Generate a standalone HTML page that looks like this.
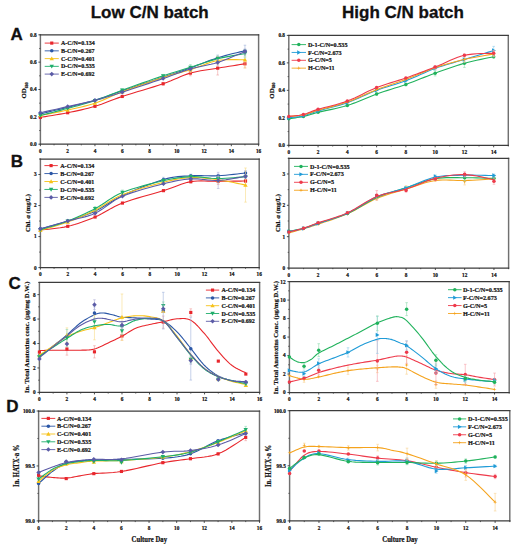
<!DOCTYPE html>
<html><head><meta charset="utf-8"><title>Figure</title>
<style>
html,body{margin:0;padding:0;background:#fff;}
body{width:515px;height:550px;overflow:hidden;font-family:"Liberation Sans",sans-serif;}
svg{display:block;}
</style></head>
<body>
<svg width="515" height="550" viewBox="0 0 515 550">
<rect width="515" height="550" fill="#fff"/>
<text transform="translate(149.7 18.4) scale(1 1)" font-family='"Liberation Sans", sans-serif' font-size="17" font-weight="bold" text-anchor="middle" fill="#111" stroke="#111" stroke-width="0.3">Low C/N batch</text>
<text transform="translate(403 18.4) scale(1 1)" font-family='"Liberation Sans", sans-serif' font-size="17" font-weight="bold" text-anchor="middle" fill="#111" stroke="#111" stroke-width="0.3">High C/N batch</text>
<text transform="translate(10.6 40) scale(1 1)" font-family='"Liberation Sans", sans-serif' font-size="17" font-weight="bold" text-anchor="start" fill="#111" stroke="#111" stroke-width="0.3">A</text>
<text transform="translate(10.8 166.6) scale(1 1)" font-family='"Liberation Sans", sans-serif' font-size="17" font-weight="bold" text-anchor="start" fill="#111" stroke="#111" stroke-width="0.3">B</text>
<text transform="translate(8.4 289.2) scale(1 1)" font-family='"Liberation Sans", sans-serif' font-size="17" font-weight="bold" text-anchor="start" fill="#111" stroke="#111" stroke-width="0.3">C</text>
<text transform="translate(6.2 411.6) scale(1 1)" font-family='"Liberation Sans", sans-serif' font-size="17" font-weight="bold" text-anchor="start" fill="#111" stroke="#111" stroke-width="0.3">D</text>
<path d="M40.4 34.3V144.7M258.6 34.3V144.7" stroke="#707070" stroke-width="1.45" fill="none"/>
<path d="M39.8 34.8H259.2M39.8 144.2H259.2" stroke="#3c3c3c" stroke-width="1.25" fill="none"/>
<path d="M40.4 144.2V146.2" stroke="#3a3a3a" stroke-width="0.9"/>
<text transform="translate(40.4 153) scale(1 1.1)" font-family='"Liberation Serif", serif' font-size="5.3" font-weight="bold" text-anchor="middle" fill="#111" stroke="#111" stroke-width="0.2">0</text>
<path d="M67.67 144.2V146.2" stroke="#3a3a3a" stroke-width="0.9"/>
<text transform="translate(67.67 153) scale(1 1.1)" font-family='"Liberation Serif", serif' font-size="5.3" font-weight="bold" text-anchor="middle" fill="#111" stroke="#111" stroke-width="0.2">2</text>
<path d="M94.95 144.2V146.2" stroke="#3a3a3a" stroke-width="0.9"/>
<text transform="translate(94.95 153) scale(1 1.1)" font-family='"Liberation Serif", serif' font-size="5.3" font-weight="bold" text-anchor="middle" fill="#111" stroke="#111" stroke-width="0.2">4</text>
<path d="M122.22 144.2V146.2" stroke="#3a3a3a" stroke-width="0.9"/>
<text transform="translate(122.22 153) scale(1 1.1)" font-family='"Liberation Serif", serif' font-size="5.3" font-weight="bold" text-anchor="middle" fill="#111" stroke="#111" stroke-width="0.2">6</text>
<path d="M149.5 144.2V146.2" stroke="#3a3a3a" stroke-width="0.9"/>
<text transform="translate(149.5 153) scale(1 1.1)" font-family='"Liberation Serif", serif' font-size="5.3" font-weight="bold" text-anchor="middle" fill="#111" stroke="#111" stroke-width="0.2">8</text>
<path d="M176.78 144.2V146.2" stroke="#3a3a3a" stroke-width="0.9"/>
<text transform="translate(176.78 153) scale(1 1.1)" font-family='"Liberation Serif", serif' font-size="5.3" font-weight="bold" text-anchor="middle" fill="#111" stroke="#111" stroke-width="0.2">10</text>
<path d="M204.05 144.2V146.2" stroke="#3a3a3a" stroke-width="0.9"/>
<text transform="translate(204.05 153) scale(1 1.1)" font-family='"Liberation Serif", serif' font-size="5.3" font-weight="bold" text-anchor="middle" fill="#111" stroke="#111" stroke-width="0.2">12</text>
<path d="M231.33 144.2V146.2" stroke="#3a3a3a" stroke-width="0.9"/>
<text transform="translate(231.33 153) scale(1 1.1)" font-family='"Liberation Serif", serif' font-size="5.3" font-weight="bold" text-anchor="middle" fill="#111" stroke="#111" stroke-width="0.2">14</text>
<path d="M258.6 144.2V146.2" stroke="#3a3a3a" stroke-width="0.9"/>
<text transform="translate(258.6 153) scale(1 1.1)" font-family='"Liberation Serif", serif' font-size="5.3" font-weight="bold" text-anchor="middle" fill="#111" stroke="#111" stroke-width="0.2">16</text>
<path d="M54.04 144.2V145.4" stroke="#3a3a3a" stroke-width="0.8"/>
<path d="M81.31 144.2V145.4" stroke="#3a3a3a" stroke-width="0.8"/>
<path d="M108.59 144.2V145.4" stroke="#3a3a3a" stroke-width="0.8"/>
<path d="M135.86 144.2V145.4" stroke="#3a3a3a" stroke-width="0.8"/>
<path d="M163.14 144.2V145.4" stroke="#3a3a3a" stroke-width="0.8"/>
<path d="M190.41 144.2V145.4" stroke="#3a3a3a" stroke-width="0.8"/>
<path d="M217.69 144.2V145.4" stroke="#3a3a3a" stroke-width="0.8"/>
<path d="M244.96 144.2V145.4" stroke="#3a3a3a" stroke-width="0.8"/>
<path d="M40.4 144.2H38.4" stroke="#3a3a3a" stroke-width="0.9"/>
<text transform="translate(36.6 146.1) scale(1 1.1)" font-family='"Liberation Serif", serif' font-size="5.3" font-weight="bold" text-anchor="end" fill="#111" stroke="#111" stroke-width="0.2">0.0</text>
<path d="M40.4 116.85H38.4" stroke="#3a3a3a" stroke-width="0.9"/>
<text transform="translate(36.6 118.75) scale(1 1.1)" font-family='"Liberation Serif", serif' font-size="5.3" font-weight="bold" text-anchor="end" fill="#111" stroke="#111" stroke-width="0.2">0.2</text>
<path d="M40.4 89.5H38.4" stroke="#3a3a3a" stroke-width="0.9"/>
<text transform="translate(36.6 91.4) scale(1 1.1)" font-family='"Liberation Serif", serif' font-size="5.3" font-weight="bold" text-anchor="end" fill="#111" stroke="#111" stroke-width="0.2">0.4</text>
<path d="M40.4 62.15H38.4" stroke="#3a3a3a" stroke-width="0.9"/>
<text transform="translate(36.6 64.05) scale(1 1.1)" font-family='"Liberation Serif", serif' font-size="5.3" font-weight="bold" text-anchor="end" fill="#111" stroke="#111" stroke-width="0.2">0.6</text>
<path d="M40.4 34.8H38.4" stroke="#3a3a3a" stroke-width="0.9"/>
<text transform="translate(36.6 36.7) scale(1 1.1)" font-family='"Liberation Serif", serif' font-size="5.3" font-weight="bold" text-anchor="end" fill="#111" stroke="#111" stroke-width="0.2">0.8</text>
<path d="M40.4 130.52H39.2" stroke="#3a3a3a" stroke-width="0.8"/>
<path d="M40.4 103.17H39.2" stroke="#3a3a3a" stroke-width="0.8"/>
<path d="M40.4 75.82H39.2" stroke="#3a3a3a" stroke-width="0.8"/>
<path d="M40.4 48.48H39.2" stroke="#3a3a3a" stroke-width="0.8"/>
<path d="M288.8 34.9V145.8M508.3 34.9V145.8" stroke="#707070" stroke-width="1.45" fill="none"/>
<path d="M288.2 35.4H508.9M288.2 145.3H508.9" stroke="#3c3c3c" stroke-width="1.25" fill="none"/>
<path d="M288.8 145.3V147.3" stroke="#3a3a3a" stroke-width="0.9"/>
<text transform="translate(288.8 154.1) scale(1 1.1)" font-family='"Liberation Serif", serif' font-size="5.3" font-weight="bold" text-anchor="middle" fill="#111" stroke="#111" stroke-width="0.2">0</text>
<path d="M318.07 145.3V147.3" stroke="#3a3a3a" stroke-width="0.9"/>
<text transform="translate(318.07 154.1) scale(1 1.1)" font-family='"Liberation Serif", serif' font-size="5.3" font-weight="bold" text-anchor="middle" fill="#111" stroke="#111" stroke-width="0.2">2</text>
<path d="M347.33 145.3V147.3" stroke="#3a3a3a" stroke-width="0.9"/>
<text transform="translate(347.33 154.1) scale(1 1.1)" font-family='"Liberation Serif", serif' font-size="5.3" font-weight="bold" text-anchor="middle" fill="#111" stroke="#111" stroke-width="0.2">4</text>
<path d="M376.6 145.3V147.3" stroke="#3a3a3a" stroke-width="0.9"/>
<text transform="translate(376.6 154.1) scale(1 1.1)" font-family='"Liberation Serif", serif' font-size="5.3" font-weight="bold" text-anchor="middle" fill="#111" stroke="#111" stroke-width="0.2">6</text>
<path d="M405.87 145.3V147.3" stroke="#3a3a3a" stroke-width="0.9"/>
<text transform="translate(405.87 154.1) scale(1 1.1)" font-family='"Liberation Serif", serif' font-size="5.3" font-weight="bold" text-anchor="middle" fill="#111" stroke="#111" stroke-width="0.2">8</text>
<path d="M435.13 145.3V147.3" stroke="#3a3a3a" stroke-width="0.9"/>
<text transform="translate(435.13 154.1) scale(1 1.1)" font-family='"Liberation Serif", serif' font-size="5.3" font-weight="bold" text-anchor="middle" fill="#111" stroke="#111" stroke-width="0.2">10</text>
<path d="M464.4 145.3V147.3" stroke="#3a3a3a" stroke-width="0.9"/>
<text transform="translate(464.4 154.1) scale(1 1.1)" font-family='"Liberation Serif", serif' font-size="5.3" font-weight="bold" text-anchor="middle" fill="#111" stroke="#111" stroke-width="0.2">12</text>
<path d="M493.67 145.3V147.3" stroke="#3a3a3a" stroke-width="0.9"/>
<text transform="translate(493.67 154.1) scale(1 1.1)" font-family='"Liberation Serif", serif' font-size="5.3" font-weight="bold" text-anchor="middle" fill="#111" stroke="#111" stroke-width="0.2">14</text>
<path d="M303.43 145.3V146.5" stroke="#3a3a3a" stroke-width="0.8"/>
<path d="M332.7 145.3V146.5" stroke="#3a3a3a" stroke-width="0.8"/>
<path d="M361.97 145.3V146.5" stroke="#3a3a3a" stroke-width="0.8"/>
<path d="M391.23 145.3V146.5" stroke="#3a3a3a" stroke-width="0.8"/>
<path d="M420.5 145.3V146.5" stroke="#3a3a3a" stroke-width="0.8"/>
<path d="M449.77 145.3V146.5" stroke="#3a3a3a" stroke-width="0.8"/>
<path d="M479.03 145.3V146.5" stroke="#3a3a3a" stroke-width="0.8"/>
<path d="M508.3 145.3V146.5" stroke="#3a3a3a" stroke-width="0.8"/>
<path d="M288.8 145.3H286.8" stroke="#3a3a3a" stroke-width="0.9"/>
<text transform="translate(285 147.2) scale(1 1.1)" font-family='"Liberation Serif", serif' font-size="5.3" font-weight="bold" text-anchor="end" fill="#111" stroke="#111" stroke-width="0.2">0.0</text>
<path d="M288.8 117.83H286.8" stroke="#3a3a3a" stroke-width="0.9"/>
<text transform="translate(285 119.73) scale(1 1.1)" font-family='"Liberation Serif", serif' font-size="5.3" font-weight="bold" text-anchor="end" fill="#111" stroke="#111" stroke-width="0.2">0.2</text>
<path d="M288.8 90.35H286.8" stroke="#3a3a3a" stroke-width="0.9"/>
<text transform="translate(285 92.25) scale(1 1.1)" font-family='"Liberation Serif", serif' font-size="5.3" font-weight="bold" text-anchor="end" fill="#111" stroke="#111" stroke-width="0.2">0.4</text>
<path d="M288.8 62.88H286.8" stroke="#3a3a3a" stroke-width="0.9"/>
<text transform="translate(285 64.78) scale(1 1.1)" font-family='"Liberation Serif", serif' font-size="5.3" font-weight="bold" text-anchor="end" fill="#111" stroke="#111" stroke-width="0.2">0.6</text>
<path d="M288.8 35.4H286.8" stroke="#3a3a3a" stroke-width="0.9"/>
<text transform="translate(285 37.3) scale(1 1.1)" font-family='"Liberation Serif", serif' font-size="5.3" font-weight="bold" text-anchor="end" fill="#111" stroke="#111" stroke-width="0.2">0.8</text>
<path d="M288.8 131.56H287.6" stroke="#3a3a3a" stroke-width="0.8"/>
<path d="M288.8 104.09H287.6" stroke="#3a3a3a" stroke-width="0.8"/>
<path d="M288.8 76.61H287.6" stroke="#3a3a3a" stroke-width="0.8"/>
<path d="M288.8 49.14H287.6" stroke="#3a3a3a" stroke-width="0.8"/>
<path d="M40.4 158.5V268.1M259.2 158.5V268.1" stroke="#707070" stroke-width="1.45" fill="none"/>
<path d="M39.8 159H259.8M39.8 267.6H259.8" stroke="#3c3c3c" stroke-width="1.25" fill="none"/>
<path d="M40.4 267.6V269.6" stroke="#3a3a3a" stroke-width="0.9"/>
<text transform="translate(40.4 276.4) scale(1 1.1)" font-family='"Liberation Serif", serif' font-size="5.3" font-weight="bold" text-anchor="middle" fill="#111" stroke="#111" stroke-width="0.2">0</text>
<path d="M67.75 267.6V269.6" stroke="#3a3a3a" stroke-width="0.9"/>
<text transform="translate(67.75 276.4) scale(1 1.1)" font-family='"Liberation Serif", serif' font-size="5.3" font-weight="bold" text-anchor="middle" fill="#111" stroke="#111" stroke-width="0.2">2</text>
<path d="M95.1 267.6V269.6" stroke="#3a3a3a" stroke-width="0.9"/>
<text transform="translate(95.1 276.4) scale(1 1.1)" font-family='"Liberation Serif", serif' font-size="5.3" font-weight="bold" text-anchor="middle" fill="#111" stroke="#111" stroke-width="0.2">4</text>
<path d="M122.45 267.6V269.6" stroke="#3a3a3a" stroke-width="0.9"/>
<text transform="translate(122.45 276.4) scale(1 1.1)" font-family='"Liberation Serif", serif' font-size="5.3" font-weight="bold" text-anchor="middle" fill="#111" stroke="#111" stroke-width="0.2">6</text>
<path d="M149.8 267.6V269.6" stroke="#3a3a3a" stroke-width="0.9"/>
<text transform="translate(149.8 276.4) scale(1 1.1)" font-family='"Liberation Serif", serif' font-size="5.3" font-weight="bold" text-anchor="middle" fill="#111" stroke="#111" stroke-width="0.2">8</text>
<path d="M177.15 267.6V269.6" stroke="#3a3a3a" stroke-width="0.9"/>
<text transform="translate(177.15 276.4) scale(1 1.1)" font-family='"Liberation Serif", serif' font-size="5.3" font-weight="bold" text-anchor="middle" fill="#111" stroke="#111" stroke-width="0.2">10</text>
<path d="M204.5 267.6V269.6" stroke="#3a3a3a" stroke-width="0.9"/>
<text transform="translate(204.5 276.4) scale(1 1.1)" font-family='"Liberation Serif", serif' font-size="5.3" font-weight="bold" text-anchor="middle" fill="#111" stroke="#111" stroke-width="0.2">12</text>
<path d="M231.85 267.6V269.6" stroke="#3a3a3a" stroke-width="0.9"/>
<text transform="translate(231.85 276.4) scale(1 1.1)" font-family='"Liberation Serif", serif' font-size="5.3" font-weight="bold" text-anchor="middle" fill="#111" stroke="#111" stroke-width="0.2">14</text>
<path d="M259.2 267.6V269.6" stroke="#3a3a3a" stroke-width="0.9"/>
<text transform="translate(259.2 276.4) scale(1 1.1)" font-family='"Liberation Serif", serif' font-size="5.3" font-weight="bold" text-anchor="middle" fill="#111" stroke="#111" stroke-width="0.2">16</text>
<path d="M54.07 267.6V268.8" stroke="#3a3a3a" stroke-width="0.8"/>
<path d="M81.42 267.6V268.8" stroke="#3a3a3a" stroke-width="0.8"/>
<path d="M108.78 267.6V268.8" stroke="#3a3a3a" stroke-width="0.8"/>
<path d="M136.12 267.6V268.8" stroke="#3a3a3a" stroke-width="0.8"/>
<path d="M163.47 267.6V268.8" stroke="#3a3a3a" stroke-width="0.8"/>
<path d="M190.82 267.6V268.8" stroke="#3a3a3a" stroke-width="0.8"/>
<path d="M218.17 267.6V268.8" stroke="#3a3a3a" stroke-width="0.8"/>
<path d="M245.52 267.6V268.8" stroke="#3a3a3a" stroke-width="0.8"/>
<path d="M40.4 267.6H38.4" stroke="#3a3a3a" stroke-width="0.9"/>
<text transform="translate(36.6 269.5) scale(1 1.1)" font-family='"Liberation Serif", serif' font-size="5.3" font-weight="bold" text-anchor="end" fill="#111" stroke="#111" stroke-width="0.2">0</text>
<path d="M40.4 236.57H38.4" stroke="#3a3a3a" stroke-width="0.9"/>
<text transform="translate(36.6 238.47) scale(1 1.1)" font-family='"Liberation Serif", serif' font-size="5.3" font-weight="bold" text-anchor="end" fill="#111" stroke="#111" stroke-width="0.2">1</text>
<path d="M40.4 205.54H38.4" stroke="#3a3a3a" stroke-width="0.9"/>
<text transform="translate(36.6 207.44) scale(1 1.1)" font-family='"Liberation Serif", serif' font-size="5.3" font-weight="bold" text-anchor="end" fill="#111" stroke="#111" stroke-width="0.2">2</text>
<path d="M40.4 174.51H38.4" stroke="#3a3a3a" stroke-width="0.9"/>
<text transform="translate(36.6 176.41) scale(1 1.1)" font-family='"Liberation Serif", serif' font-size="5.3" font-weight="bold" text-anchor="end" fill="#111" stroke="#111" stroke-width="0.2">3</text>
<path d="M40.4 252.09H39.2" stroke="#3a3a3a" stroke-width="0.8"/>
<path d="M40.4 221.06H39.2" stroke="#3a3a3a" stroke-width="0.8"/>
<path d="M40.4 190.03H39.2" stroke="#3a3a3a" stroke-width="0.8"/>
<path d="M40.4 159H39.2" stroke="#3a3a3a" stroke-width="0.8"/>
<path d="M288.9 157.8V268.5M508.6 157.8V268.5" stroke="#707070" stroke-width="1.45" fill="none"/>
<path d="M288.3 158.3H509.2M288.3 268H509.2" stroke="#3c3c3c" stroke-width="1.25" fill="none"/>
<path d="M288.9 268V270" stroke="#3a3a3a" stroke-width="0.9"/>
<text transform="translate(288.9 276.8) scale(1 1.1)" font-family='"Liberation Serif", serif' font-size="5.3" font-weight="bold" text-anchor="middle" fill="#111" stroke="#111" stroke-width="0.2">0</text>
<path d="M318.19 268V270" stroke="#3a3a3a" stroke-width="0.9"/>
<text transform="translate(318.19 276.8) scale(1 1.1)" font-family='"Liberation Serif", serif' font-size="5.3" font-weight="bold" text-anchor="middle" fill="#111" stroke="#111" stroke-width="0.2">2</text>
<path d="M347.49 268V270" stroke="#3a3a3a" stroke-width="0.9"/>
<text transform="translate(347.49 276.8) scale(1 1.1)" font-family='"Liberation Serif", serif' font-size="5.3" font-weight="bold" text-anchor="middle" fill="#111" stroke="#111" stroke-width="0.2">4</text>
<path d="M376.78 268V270" stroke="#3a3a3a" stroke-width="0.9"/>
<text transform="translate(376.78 276.8) scale(1 1.1)" font-family='"Liberation Serif", serif' font-size="5.3" font-weight="bold" text-anchor="middle" fill="#111" stroke="#111" stroke-width="0.2">6</text>
<path d="M406.07 268V270" stroke="#3a3a3a" stroke-width="0.9"/>
<text transform="translate(406.07 276.8) scale(1 1.1)" font-family='"Liberation Serif", serif' font-size="5.3" font-weight="bold" text-anchor="middle" fill="#111" stroke="#111" stroke-width="0.2">8</text>
<path d="M435.37 268V270" stroke="#3a3a3a" stroke-width="0.9"/>
<text transform="translate(435.37 276.8) scale(1 1.1)" font-family='"Liberation Serif", serif' font-size="5.3" font-weight="bold" text-anchor="middle" fill="#111" stroke="#111" stroke-width="0.2">10</text>
<path d="M464.66 268V270" stroke="#3a3a3a" stroke-width="0.9"/>
<text transform="translate(464.66 276.8) scale(1 1.1)" font-family='"Liberation Serif", serif' font-size="5.3" font-weight="bold" text-anchor="middle" fill="#111" stroke="#111" stroke-width="0.2">12</text>
<path d="M493.95 268V270" stroke="#3a3a3a" stroke-width="0.9"/>
<text transform="translate(493.95 276.8) scale(1 1.1)" font-family='"Liberation Serif", serif' font-size="5.3" font-weight="bold" text-anchor="middle" fill="#111" stroke="#111" stroke-width="0.2">14</text>
<path d="M303.55 268V269.2" stroke="#3a3a3a" stroke-width="0.8"/>
<path d="M332.84 268V269.2" stroke="#3a3a3a" stroke-width="0.8"/>
<path d="M362.13 268V269.2" stroke="#3a3a3a" stroke-width="0.8"/>
<path d="M391.43 268V269.2" stroke="#3a3a3a" stroke-width="0.8"/>
<path d="M420.72 268V269.2" stroke="#3a3a3a" stroke-width="0.8"/>
<path d="M450.01 268V269.2" stroke="#3a3a3a" stroke-width="0.8"/>
<path d="M479.31 268V269.2" stroke="#3a3a3a" stroke-width="0.8"/>
<path d="M508.6 268V269.2" stroke="#3a3a3a" stroke-width="0.8"/>
<path d="M288.9 268H286.9" stroke="#3a3a3a" stroke-width="0.9"/>
<text transform="translate(285.1 269.9) scale(1 1.1)" font-family='"Liberation Serif", serif' font-size="5.3" font-weight="bold" text-anchor="end" fill="#111" stroke="#111" stroke-width="0.2">0</text>
<path d="M288.9 236.66H286.9" stroke="#3a3a3a" stroke-width="0.9"/>
<text transform="translate(285.1 238.56) scale(1 1.1)" font-family='"Liberation Serif", serif' font-size="5.3" font-weight="bold" text-anchor="end" fill="#111" stroke="#111" stroke-width="0.2">1</text>
<path d="M288.9 205.31H286.9" stroke="#3a3a3a" stroke-width="0.9"/>
<text transform="translate(285.1 207.21) scale(1 1.1)" font-family='"Liberation Serif", serif' font-size="5.3" font-weight="bold" text-anchor="end" fill="#111" stroke="#111" stroke-width="0.2">2</text>
<path d="M288.9 173.97H286.9" stroke="#3a3a3a" stroke-width="0.9"/>
<text transform="translate(285.1 175.87) scale(1 1.1)" font-family='"Liberation Serif", serif' font-size="5.3" font-weight="bold" text-anchor="end" fill="#111" stroke="#111" stroke-width="0.2">3</text>
<path d="M288.9 252.33H287.7" stroke="#3a3a3a" stroke-width="0.8"/>
<path d="M288.9 220.99H287.7" stroke="#3a3a3a" stroke-width="0.8"/>
<path d="M288.9 189.64H287.7" stroke="#3a3a3a" stroke-width="0.8"/>
<path d="M288.9 158.3H287.7" stroke="#3a3a3a" stroke-width="0.8"/>
<path d="M39.4 281.9V392.9M259.6 281.9V392.9" stroke="#707070" stroke-width="1.45" fill="none"/>
<path d="M38.8 282.4H260.2M38.8 392.4H260.2" stroke="#3c3c3c" stroke-width="1.25" fill="none"/>
<path d="M39.4 392.4V394.4" stroke="#3a3a3a" stroke-width="0.9"/>
<text transform="translate(39.4 401.2) scale(1 1.1)" font-family='"Liberation Serif", serif' font-size="5.3" font-weight="bold" text-anchor="middle" fill="#111" stroke="#111" stroke-width="0.2">0</text>
<path d="M66.92 392.4V394.4" stroke="#3a3a3a" stroke-width="0.9"/>
<text transform="translate(66.92 401.2) scale(1 1.1)" font-family='"Liberation Serif", serif' font-size="5.3" font-weight="bold" text-anchor="middle" fill="#111" stroke="#111" stroke-width="0.2">2</text>
<path d="M94.45 392.4V394.4" stroke="#3a3a3a" stroke-width="0.9"/>
<text transform="translate(94.45 401.2) scale(1 1.1)" font-family='"Liberation Serif", serif' font-size="5.3" font-weight="bold" text-anchor="middle" fill="#111" stroke="#111" stroke-width="0.2">4</text>
<path d="M121.97 392.4V394.4" stroke="#3a3a3a" stroke-width="0.9"/>
<text transform="translate(121.97 401.2) scale(1 1.1)" font-family='"Liberation Serif", serif' font-size="5.3" font-weight="bold" text-anchor="middle" fill="#111" stroke="#111" stroke-width="0.2">6</text>
<path d="M149.5 392.4V394.4" stroke="#3a3a3a" stroke-width="0.9"/>
<text transform="translate(149.5 401.2) scale(1 1.1)" font-family='"Liberation Serif", serif' font-size="5.3" font-weight="bold" text-anchor="middle" fill="#111" stroke="#111" stroke-width="0.2">8</text>
<path d="M177.03 392.4V394.4" stroke="#3a3a3a" stroke-width="0.9"/>
<text transform="translate(177.03 401.2) scale(1 1.1)" font-family='"Liberation Serif", serif' font-size="5.3" font-weight="bold" text-anchor="middle" fill="#111" stroke="#111" stroke-width="0.2">10</text>
<path d="M204.55 392.4V394.4" stroke="#3a3a3a" stroke-width="0.9"/>
<text transform="translate(204.55 401.2) scale(1 1.1)" font-family='"Liberation Serif", serif' font-size="5.3" font-weight="bold" text-anchor="middle" fill="#111" stroke="#111" stroke-width="0.2">12</text>
<path d="M232.08 392.4V394.4" stroke="#3a3a3a" stroke-width="0.9"/>
<text transform="translate(232.08 401.2) scale(1 1.1)" font-family='"Liberation Serif", serif' font-size="5.3" font-weight="bold" text-anchor="middle" fill="#111" stroke="#111" stroke-width="0.2">14</text>
<path d="M259.6 392.4V394.4" stroke="#3a3a3a" stroke-width="0.9"/>
<text transform="translate(259.6 401.2) scale(1 1.1)" font-family='"Liberation Serif", serif' font-size="5.3" font-weight="bold" text-anchor="middle" fill="#111" stroke="#111" stroke-width="0.2">16</text>
<path d="M53.16 392.4V393.6" stroke="#3a3a3a" stroke-width="0.8"/>
<path d="M80.69 392.4V393.6" stroke="#3a3a3a" stroke-width="0.8"/>
<path d="M108.21 392.4V393.6" stroke="#3a3a3a" stroke-width="0.8"/>
<path d="M135.74 392.4V393.6" stroke="#3a3a3a" stroke-width="0.8"/>
<path d="M163.26 392.4V393.6" stroke="#3a3a3a" stroke-width="0.8"/>
<path d="M190.79 392.4V393.6" stroke="#3a3a3a" stroke-width="0.8"/>
<path d="M218.31 392.4V393.6" stroke="#3a3a3a" stroke-width="0.8"/>
<path d="M245.84 392.4V393.6" stroke="#3a3a3a" stroke-width="0.8"/>
<path d="M39.4 392.4H37.4" stroke="#3a3a3a" stroke-width="0.9"/>
<text transform="translate(35.6 394.3) scale(1 1.1)" font-family='"Liberation Serif", serif' font-size="5.3" font-weight="bold" text-anchor="end" fill="#111" stroke="#111" stroke-width="0.2">0</text>
<path d="M39.4 367.96H37.4" stroke="#3a3a3a" stroke-width="0.9"/>
<text transform="translate(35.6 369.86) scale(1 1.1)" font-family='"Liberation Serif", serif' font-size="5.3" font-weight="bold" text-anchor="end" fill="#111" stroke="#111" stroke-width="0.2">2</text>
<path d="M39.4 343.51H37.4" stroke="#3a3a3a" stroke-width="0.9"/>
<text transform="translate(35.6 345.41) scale(1 1.1)" font-family='"Liberation Serif", serif' font-size="5.3" font-weight="bold" text-anchor="end" fill="#111" stroke="#111" stroke-width="0.2">4</text>
<path d="M39.4 319.07H37.4" stroke="#3a3a3a" stroke-width="0.9"/>
<text transform="translate(35.6 320.97) scale(1 1.1)" font-family='"Liberation Serif", serif' font-size="5.3" font-weight="bold" text-anchor="end" fill="#111" stroke="#111" stroke-width="0.2">6</text>
<path d="M39.4 294.62H37.4" stroke="#3a3a3a" stroke-width="0.9"/>
<text transform="translate(35.6 296.52) scale(1 1.1)" font-family='"Liberation Serif", serif' font-size="5.3" font-weight="bold" text-anchor="end" fill="#111" stroke="#111" stroke-width="0.2">8</text>
<path d="M39.4 380.18H38.2" stroke="#3a3a3a" stroke-width="0.8"/>
<path d="M39.4 355.73H38.2" stroke="#3a3a3a" stroke-width="0.8"/>
<path d="M39.4 331.29H38.2" stroke="#3a3a3a" stroke-width="0.8"/>
<path d="M39.4 306.84H38.2" stroke="#3a3a3a" stroke-width="0.8"/>
<path d="M39.4 282.4H38.2" stroke="#3a3a3a" stroke-width="0.8"/>
<path d="M289.4 281.1V393M509.2 281.1V393" stroke="#707070" stroke-width="1.45" fill="none"/>
<path d="M288.8 281.6H509.8M288.8 392.5H509.8" stroke="#3c3c3c" stroke-width="1.25" fill="none"/>
<path d="M289.4 392.5V394.5" stroke="#3a3a3a" stroke-width="0.9"/>
<text transform="translate(289.4 401.3) scale(1 1.1)" font-family='"Liberation Serif", serif' font-size="5.3" font-weight="bold" text-anchor="middle" fill="#111" stroke="#111" stroke-width="0.2">0</text>
<path d="M318.71 392.5V394.5" stroke="#3a3a3a" stroke-width="0.9"/>
<text transform="translate(318.71 401.3) scale(1 1.1)" font-family='"Liberation Serif", serif' font-size="5.3" font-weight="bold" text-anchor="middle" fill="#111" stroke="#111" stroke-width="0.2">2</text>
<path d="M348.01 392.5V394.5" stroke="#3a3a3a" stroke-width="0.9"/>
<text transform="translate(348.01 401.3) scale(1 1.1)" font-family='"Liberation Serif", serif' font-size="5.3" font-weight="bold" text-anchor="middle" fill="#111" stroke="#111" stroke-width="0.2">4</text>
<path d="M377.32 392.5V394.5" stroke="#3a3a3a" stroke-width="0.9"/>
<text transform="translate(377.32 401.3) scale(1 1.1)" font-family='"Liberation Serif", serif' font-size="5.3" font-weight="bold" text-anchor="middle" fill="#111" stroke="#111" stroke-width="0.2">6</text>
<path d="M406.63 392.5V394.5" stroke="#3a3a3a" stroke-width="0.9"/>
<text transform="translate(406.63 401.3) scale(1 1.1)" font-family='"Liberation Serif", serif' font-size="5.3" font-weight="bold" text-anchor="middle" fill="#111" stroke="#111" stroke-width="0.2">8</text>
<path d="M435.93 392.5V394.5" stroke="#3a3a3a" stroke-width="0.9"/>
<text transform="translate(435.93 401.3) scale(1 1.1)" font-family='"Liberation Serif", serif' font-size="5.3" font-weight="bold" text-anchor="middle" fill="#111" stroke="#111" stroke-width="0.2">10</text>
<path d="M465.24 392.5V394.5" stroke="#3a3a3a" stroke-width="0.9"/>
<text transform="translate(465.24 401.3) scale(1 1.1)" font-family='"Liberation Serif", serif' font-size="5.3" font-weight="bold" text-anchor="middle" fill="#111" stroke="#111" stroke-width="0.2">12</text>
<path d="M494.55 392.5V394.5" stroke="#3a3a3a" stroke-width="0.9"/>
<text transform="translate(494.55 401.3) scale(1 1.1)" font-family='"Liberation Serif", serif' font-size="5.3" font-weight="bold" text-anchor="middle" fill="#111" stroke="#111" stroke-width="0.2">14</text>
<path d="M304.05 392.5V393.7" stroke="#3a3a3a" stroke-width="0.8"/>
<path d="M333.36 392.5V393.7" stroke="#3a3a3a" stroke-width="0.8"/>
<path d="M362.67 392.5V393.7" stroke="#3a3a3a" stroke-width="0.8"/>
<path d="M391.97 392.5V393.7" stroke="#3a3a3a" stroke-width="0.8"/>
<path d="M421.28 392.5V393.7" stroke="#3a3a3a" stroke-width="0.8"/>
<path d="M450.59 392.5V393.7" stroke="#3a3a3a" stroke-width="0.8"/>
<path d="M479.89 392.5V393.7" stroke="#3a3a3a" stroke-width="0.8"/>
<path d="M509.2 392.5V393.7" stroke="#3a3a3a" stroke-width="0.8"/>
<path d="M289.4 392.5H287.4" stroke="#3a3a3a" stroke-width="0.9"/>
<text transform="translate(285.6 394.4) scale(1 1.1)" font-family='"Liberation Serif", serif' font-size="5.3" font-weight="bold" text-anchor="end" fill="#111" stroke="#111" stroke-width="0.2">0</text>
<path d="M289.4 374.02H287.4" stroke="#3a3a3a" stroke-width="0.9"/>
<text transform="translate(285.6 375.92) scale(1 1.1)" font-family='"Liberation Serif", serif' font-size="5.3" font-weight="bold" text-anchor="end" fill="#111" stroke="#111" stroke-width="0.2">2</text>
<path d="M289.4 355.53H287.4" stroke="#3a3a3a" stroke-width="0.9"/>
<text transform="translate(285.6 357.43) scale(1 1.1)" font-family='"Liberation Serif", serif' font-size="5.3" font-weight="bold" text-anchor="end" fill="#111" stroke="#111" stroke-width="0.2">4</text>
<path d="M289.4 337.05H287.4" stroke="#3a3a3a" stroke-width="0.9"/>
<text transform="translate(285.6 338.95) scale(1 1.1)" font-family='"Liberation Serif", serif' font-size="5.3" font-weight="bold" text-anchor="end" fill="#111" stroke="#111" stroke-width="0.2">6</text>
<path d="M289.4 318.57H287.4" stroke="#3a3a3a" stroke-width="0.9"/>
<text transform="translate(285.6 320.47) scale(1 1.1)" font-family='"Liberation Serif", serif' font-size="5.3" font-weight="bold" text-anchor="end" fill="#111" stroke="#111" stroke-width="0.2">8</text>
<path d="M289.4 300.08H287.4" stroke="#3a3a3a" stroke-width="0.9"/>
<text transform="translate(285.6 301.98) scale(1 1.1)" font-family='"Liberation Serif", serif' font-size="5.3" font-weight="bold" text-anchor="end" fill="#111" stroke="#111" stroke-width="0.2">10</text>
<path d="M289.4 281.6H287.4" stroke="#3a3a3a" stroke-width="0.9"/>
<text transform="translate(285.6 283.5) scale(1 1.1)" font-family='"Liberation Serif", serif' font-size="5.3" font-weight="bold" text-anchor="end" fill="#111" stroke="#111" stroke-width="0.2">12</text>
<path d="M289.4 383.26H288.2" stroke="#3a3a3a" stroke-width="0.8"/>
<path d="M289.4 364.77H288.2" stroke="#3a3a3a" stroke-width="0.8"/>
<path d="M289.4 346.29H288.2" stroke="#3a3a3a" stroke-width="0.8"/>
<path d="M289.4 327.81H288.2" stroke="#3a3a3a" stroke-width="0.8"/>
<path d="M289.4 309.33H288.2" stroke="#3a3a3a" stroke-width="0.8"/>
<path d="M289.4 290.84H288.2" stroke="#3a3a3a" stroke-width="0.8"/>
<path d="M38.6 410.5V521.4M259.5 410.5V521.4" stroke="#707070" stroke-width="1.45" fill="none"/>
<path d="M38 411H260.1M38 520.9H260.1" stroke="#3c3c3c" stroke-width="1.25" fill="none"/>
<path d="M38.6 520.9V522.9" stroke="#3a3a3a" stroke-width="0.9"/>
<text transform="translate(38.6 529.7) scale(1 1.1)" font-family='"Liberation Serif", serif' font-size="5.3" font-weight="bold" text-anchor="middle" fill="#111" stroke="#111" stroke-width="0.2">0</text>
<path d="M66.21 520.9V522.9" stroke="#3a3a3a" stroke-width="0.9"/>
<text transform="translate(66.21 529.7) scale(1 1.1)" font-family='"Liberation Serif", serif' font-size="5.3" font-weight="bold" text-anchor="middle" fill="#111" stroke="#111" stroke-width="0.2">2</text>
<path d="M93.83 520.9V522.9" stroke="#3a3a3a" stroke-width="0.9"/>
<text transform="translate(93.83 529.7) scale(1 1.1)" font-family='"Liberation Serif", serif' font-size="5.3" font-weight="bold" text-anchor="middle" fill="#111" stroke="#111" stroke-width="0.2">4</text>
<path d="M121.44 520.9V522.9" stroke="#3a3a3a" stroke-width="0.9"/>
<text transform="translate(121.44 529.7) scale(1 1.1)" font-family='"Liberation Serif", serif' font-size="5.3" font-weight="bold" text-anchor="middle" fill="#111" stroke="#111" stroke-width="0.2">6</text>
<path d="M149.05 520.9V522.9" stroke="#3a3a3a" stroke-width="0.9"/>
<text transform="translate(149.05 529.7) scale(1 1.1)" font-family='"Liberation Serif", serif' font-size="5.3" font-weight="bold" text-anchor="middle" fill="#111" stroke="#111" stroke-width="0.2">8</text>
<path d="M176.66 520.9V522.9" stroke="#3a3a3a" stroke-width="0.9"/>
<text transform="translate(176.66 529.7) scale(1 1.1)" font-family='"Liberation Serif", serif' font-size="5.3" font-weight="bold" text-anchor="middle" fill="#111" stroke="#111" stroke-width="0.2">10</text>
<path d="M204.28 520.9V522.9" stroke="#3a3a3a" stroke-width="0.9"/>
<text transform="translate(204.28 529.7) scale(1 1.1)" font-family='"Liberation Serif", serif' font-size="5.3" font-weight="bold" text-anchor="middle" fill="#111" stroke="#111" stroke-width="0.2">12</text>
<path d="M231.89 520.9V522.9" stroke="#3a3a3a" stroke-width="0.9"/>
<text transform="translate(231.89 529.7) scale(1 1.1)" font-family='"Liberation Serif", serif' font-size="5.3" font-weight="bold" text-anchor="middle" fill="#111" stroke="#111" stroke-width="0.2">14</text>
<path d="M259.5 520.9V522.9" stroke="#3a3a3a" stroke-width="0.9"/>
<text transform="translate(259.5 529.7) scale(1 1.1)" font-family='"Liberation Serif", serif' font-size="5.3" font-weight="bold" text-anchor="middle" fill="#111" stroke="#111" stroke-width="0.2">16</text>
<path d="M52.41 520.9V522.1" stroke="#3a3a3a" stroke-width="0.8"/>
<path d="M80.02 520.9V522.1" stroke="#3a3a3a" stroke-width="0.8"/>
<path d="M107.63 520.9V522.1" stroke="#3a3a3a" stroke-width="0.8"/>
<path d="M135.24 520.9V522.1" stroke="#3a3a3a" stroke-width="0.8"/>
<path d="M162.86 520.9V522.1" stroke="#3a3a3a" stroke-width="0.8"/>
<path d="M190.47 520.9V522.1" stroke="#3a3a3a" stroke-width="0.8"/>
<path d="M218.08 520.9V522.1" stroke="#3a3a3a" stroke-width="0.8"/>
<path d="M245.69 520.9V522.1" stroke="#3a3a3a" stroke-width="0.8"/>
<path d="M38.6 520.9H36.6" stroke="#3a3a3a" stroke-width="0.9"/>
<text transform="translate(34.8 522.8) scale(1 1.1)" font-family='"Liberation Serif", serif' font-size="5.3" font-weight="bold" text-anchor="end" fill="#111" stroke="#111" stroke-width="0.2">99.0</text>
<path d="M38.6 465.95H36.6" stroke="#3a3a3a" stroke-width="0.9"/>
<text transform="translate(34.8 467.85) scale(1 1.1)" font-family='"Liberation Serif", serif' font-size="5.3" font-weight="bold" text-anchor="end" fill="#111" stroke="#111" stroke-width="0.2">99.5</text>
<path d="M38.6 411H36.6" stroke="#3a3a3a" stroke-width="0.9"/>
<text transform="translate(34.8 412.9) scale(1 1.1)" font-family='"Liberation Serif", serif' font-size="5.3" font-weight="bold" text-anchor="end" fill="#111" stroke="#111" stroke-width="0.2">100.0</text>
<path d="M38.6 493.42H37.4" stroke="#3a3a3a" stroke-width="0.8"/>
<path d="M38.6 438.48H37.4" stroke="#3a3a3a" stroke-width="0.8"/>
<path d="M289.6 410.2V521.4M509.8 410.2V521.4" stroke="#707070" stroke-width="1.45" fill="none"/>
<path d="M289 410.7H510.4M289 520.9H510.4" stroke="#3c3c3c" stroke-width="1.25" fill="none"/>
<path d="M289.6 520.9V522.9" stroke="#3a3a3a" stroke-width="0.9"/>
<text transform="translate(289.6 529.7) scale(1 1.1)" font-family='"Liberation Serif", serif' font-size="5.3" font-weight="bold" text-anchor="middle" fill="#111" stroke="#111" stroke-width="0.2">0</text>
<path d="M318.96 520.9V522.9" stroke="#3a3a3a" stroke-width="0.9"/>
<text transform="translate(318.96 529.7) scale(1 1.1)" font-family='"Liberation Serif", serif' font-size="5.3" font-weight="bold" text-anchor="middle" fill="#111" stroke="#111" stroke-width="0.2">2</text>
<path d="M348.32 520.9V522.9" stroke="#3a3a3a" stroke-width="0.9"/>
<text transform="translate(348.32 529.7) scale(1 1.1)" font-family='"Liberation Serif", serif' font-size="5.3" font-weight="bold" text-anchor="middle" fill="#111" stroke="#111" stroke-width="0.2">4</text>
<path d="M377.68 520.9V522.9" stroke="#3a3a3a" stroke-width="0.9"/>
<text transform="translate(377.68 529.7) scale(1 1.1)" font-family='"Liberation Serif", serif' font-size="5.3" font-weight="bold" text-anchor="middle" fill="#111" stroke="#111" stroke-width="0.2">6</text>
<path d="M407.04 520.9V522.9" stroke="#3a3a3a" stroke-width="0.9"/>
<text transform="translate(407.04 529.7) scale(1 1.1)" font-family='"Liberation Serif", serif' font-size="5.3" font-weight="bold" text-anchor="middle" fill="#111" stroke="#111" stroke-width="0.2">8</text>
<path d="M436.4 520.9V522.9" stroke="#3a3a3a" stroke-width="0.9"/>
<text transform="translate(436.4 529.7) scale(1 1.1)" font-family='"Liberation Serif", serif' font-size="5.3" font-weight="bold" text-anchor="middle" fill="#111" stroke="#111" stroke-width="0.2">10</text>
<path d="M465.76 520.9V522.9" stroke="#3a3a3a" stroke-width="0.9"/>
<text transform="translate(465.76 529.7) scale(1 1.1)" font-family='"Liberation Serif", serif' font-size="5.3" font-weight="bold" text-anchor="middle" fill="#111" stroke="#111" stroke-width="0.2">12</text>
<path d="M495.12 520.9V522.9" stroke="#3a3a3a" stroke-width="0.9"/>
<text transform="translate(495.12 529.7) scale(1 1.1)" font-family='"Liberation Serif", serif' font-size="5.3" font-weight="bold" text-anchor="middle" fill="#111" stroke="#111" stroke-width="0.2">14</text>
<path d="M304.28 520.9V522.1" stroke="#3a3a3a" stroke-width="0.8"/>
<path d="M333.64 520.9V522.1" stroke="#3a3a3a" stroke-width="0.8"/>
<path d="M363 520.9V522.1" stroke="#3a3a3a" stroke-width="0.8"/>
<path d="M392.36 520.9V522.1" stroke="#3a3a3a" stroke-width="0.8"/>
<path d="M421.72 520.9V522.1" stroke="#3a3a3a" stroke-width="0.8"/>
<path d="M451.08 520.9V522.1" stroke="#3a3a3a" stroke-width="0.8"/>
<path d="M480.44 520.9V522.1" stroke="#3a3a3a" stroke-width="0.8"/>
<path d="M509.8 520.9V522.1" stroke="#3a3a3a" stroke-width="0.8"/>
<path d="M289.6 520.9H287.6" stroke="#3a3a3a" stroke-width="0.9"/>
<text transform="translate(285.8 522.8) scale(1 1.1)" font-family='"Liberation Serif", serif' font-size="5.3" font-weight="bold" text-anchor="end" fill="#111" stroke="#111" stroke-width="0.2">99.0</text>
<path d="M289.6 465.8H287.6" stroke="#3a3a3a" stroke-width="0.9"/>
<text transform="translate(285.8 467.7) scale(1 1.1)" font-family='"Liberation Serif", serif' font-size="5.3" font-weight="bold" text-anchor="end" fill="#111" stroke="#111" stroke-width="0.2">99.5</text>
<path d="M289.6 410.7H287.6" stroke="#3a3a3a" stroke-width="0.9"/>
<text transform="translate(285.8 412.6) scale(1 1.1)" font-family='"Liberation Serif", serif' font-size="5.3" font-weight="bold" text-anchor="end" fill="#111" stroke="#111" stroke-width="0.2">100.0</text>
<path d="M289.6 493.35H288.4" stroke="#3a3a3a" stroke-width="0.8"/>
<path d="M289.6 438.25H288.4" stroke="#3a3a3a" stroke-width="0.8"/>
<text transform="translate(26 90.4) scale(1 1) rotate(-90)" x="0" y="0" font-family='"Liberation Serif", serif' font-size="6.9" font-weight="bold" text-anchor="middle" fill="#111" stroke="#111" stroke-width="0.2">OD<tspan font-size="3.9" dy="1.6">680</tspan></text>
<text transform="translate(273.8 90.6) scale(1 1) rotate(-90)" x="0" y="0" font-family='"Liberation Serif", serif' font-size="6.9" font-weight="bold" text-anchor="middle" fill="#111" stroke="#111" stroke-width="0.2">OD<tspan font-size="3.9" dy="1.6">680</tspan></text>
<text transform="translate(30.4 213.1) scale(1 1) rotate(-90)" x="0" y="0" font-family='"Liberation Serif", serif' font-size="6.6" font-weight="bold" text-anchor="middle" fill="#111" stroke="#111" stroke-width="0.2">Chl. <tspan font-style="italic">a</tspan> (mg/L)</text>
<text transform="translate(279.6 213.1) scale(1 1) rotate(-90)" x="0" y="0" font-family='"Liberation Serif", serif' font-size="6.6" font-weight="bold" text-anchor="middle" fill="#111" stroke="#111" stroke-width="0.2">Chl. <tspan font-style="italic">a</tspan> (mg/L)</text>
<text transform="translate(29.3 337.3) scale(1 0.95) rotate(-90)" x="0" y="0" font-family='"Liberation Serif", serif' font-size="7.09" font-weight="bold" text-anchor="middle" fill="#111" stroke="#111" stroke-width="0.2">In. Total Anatoxins conc. (μg/mg D.W.)</text>
<text transform="translate(277.5 337.6) scale(1 0.95) rotate(-90)" x="0" y="0" font-family='"Liberation Serif", serif' font-size="7.09" font-weight="bold" text-anchor="middle" fill="#111" stroke="#111" stroke-width="0.2">In. Total Anatoxins Conc. (μg/mg D.W.)</text>
<text transform="translate(18.7 465.8) scale(1 0.89) rotate(-90)" x="0" y="0" font-family='"Liberation Serif", serif' font-size="7.5" font-weight="bold" text-anchor="middle" fill="#111" stroke="#111" stroke-width="0.2">In. HATX-a %</text>
<text transform="translate(270.8 465.9) scale(1 0.89) rotate(-90)" x="0" y="0" font-family='"Liberation Serif", serif' font-size="7.5" font-weight="bold" text-anchor="middle" fill="#111" stroke="#111" stroke-width="0.2">In. HATX-a %</text>
<text transform="translate(149.3 541.7) scale(1 1.1)" font-family='"Liberation Serif", serif' font-size="6.7" font-weight="bold" text-anchor="middle" fill="#111" stroke="#111" stroke-width="0.2">Culture Day</text>
<text transform="translate(400 541.7) scale(1 1.1)" font-family='"Liberation Serif", serif' font-size="6.7" font-weight="bold" text-anchor="middle" fill="#111" stroke="#111" stroke-width="0.2">Culture Day</text>
<path d="M163.14 82.39V85.12M161.84 82.39H164.44M161.84 85.12H164.44" stroke="#f0a0a0" stroke-width="0.6" fill="none"/>
<path d="M190.41 70.35V75.82M189.11 70.35H191.71M189.11 75.82H191.71" stroke="#f0a0a0" stroke-width="0.6" fill="none"/>
<path d="M217.69 61.33V75M216.39 61.33H218.99M216.39 75H218.99" stroke="#f0a0a0" stroke-width="0.6" fill="none"/>
<path d="M244.96 59.69V67.89M243.66 59.69H246.26M243.66 67.89H246.26" stroke="#f0a0a0" stroke-width="0.6" fill="none"/>
<path d="M40.4,117.4 42.5,117.05 45.3,116.6 48.63,116.07 52.33,115.47 56.25,114.83 60.22,114.14 64.08,113.45 67.67,112.75 71.08,112.05 74.49,111.35 77.9,110.62 81.31,109.86 84.72,109.06 88.13,108.21 91.54,107.3 94.95,106.32 98.27,105.27 101.45,104.17 104.58,103 107.74,101.79 111,100.53 114.45,99.22 118.16,97.87 122.22,96.47 126.78,95.01 131.81,93.45 137.17,91.83 142.68,90.17 148.19,88.5 153.55,86.86 158.58,85.27 163.14,83.76 167.2,82.29 170.92,80.81 174.36,79.35 177.63,77.94 180.78,76.58 183.91,75.3 187.1,74.13 190.41,73.09 193.82,72.2 197.23,71.44 200.64,70.8 204.05,70.24 207.46,69.72 210.87,69.22 214.28,68.72 217.69,68.17 221.28,67.56 225.15,66.93 229.11,66.29 233.03,65.67 236.73,65.09 240.06,64.56 242.86,64.12 244.96,63.79" fill="none" stroke="#e8262c" stroke-width="1.1" stroke-linejoin="round"/>
<rect x="38.82" y="115.82" width="3.15" height="3.15" fill="#e8262c"/>
<rect x="66.1" y="111.17" width="3.15" height="3.15" fill="#e8262c"/>
<rect x="93.38" y="104.75" width="3.15" height="3.15" fill="#e8262c"/>
<rect x="120.65" y="94.9" width="3.15" height="3.15" fill="#e8262c"/>
<rect x="161.56" y="82.18" width="3.15" height="3.15" fill="#e8262c"/>
<rect x="188.84" y="71.51" width="3.15" height="3.15" fill="#e8262c"/>
<rect x="216.11" y="66.59" width="3.15" height="3.15" fill="#e8262c"/>
<rect x="243.39" y="62.22" width="3.15" height="3.15" fill="#e8262c"/>
<path d="M217.69 55.04V60.51M216.39 55.04H218.99M216.39 60.51H218.99" stroke="#9fb4dc" stroke-width="0.6" fill="none"/>
<path d="M244.96 45.19V56.13M243.66 45.19H246.26M243.66 56.13H246.26" stroke="#9fb4dc" stroke-width="0.6" fill="none"/>
<path d="M40.4,113.84 42.5,113.34 45.3,112.67 48.63,111.88 52.33,111 56.25,110.07 60.22,109.11 64.08,108.17 67.67,107.28 71.08,106.43 74.49,105.59 77.9,104.75 81.31,103.89 84.72,103.02 88.13,102.11 91.54,101.16 94.95,100.17 98.27,99.14 101.45,98.1 104.58,97.03 107.74,95.93 111,94.77 114.45,93.55 118.16,92.25 122.22,90.87 126.78,89.34 131.81,87.65 137.17,85.87 142.68,84.03 148.19,82.19 153.55,80.41 158.58,78.72 163.14,77.19 167.2,75.83 170.92,74.58 174.36,73.42 177.63,72.32 180.78,71.25 183.91,70.17 187.1,69.07 190.41,67.89 193.82,66.65 197.23,65.35 200.64,64.03 204.05,62.7 207.46,61.38 210.87,60.11 214.28,58.9 217.69,57.77 221.28,56.69 225.15,55.62 229.11,54.57 233.03,53.59 236.73,52.68 240.06,51.87 242.86,51.19 244.96,50.66" fill="none" stroke="#2b57a6" stroke-width="1.1" stroke-linejoin="round"/>
<circle cx="40.4" cy="113.84" r="1.75" fill="#2b57a6"/>
<circle cx="67.67" cy="107.28" r="1.75" fill="#2b57a6"/>
<circle cx="94.95" cy="100.17" r="1.75" fill="#2b57a6"/>
<circle cx="122.22" cy="90.87" r="1.75" fill="#2b57a6"/>
<circle cx="163.14" cy="77.19" r="1.75" fill="#2b57a6"/>
<circle cx="190.41" cy="67.89" r="1.75" fill="#2b57a6"/>
<circle cx="217.69" cy="57.77" r="1.75" fill="#2b57a6"/>
<circle cx="244.96" cy="50.66" r="1.75" fill="#2b57a6"/>
<path d="M190.41 66.94V72.41M189.11 66.94H191.71M189.11 72.41H191.71" stroke="#f8dc88" stroke-width="0.6" fill="none"/>
<path d="M217.69 56.41V64.61M216.39 56.41H218.99M216.39 64.61H218.99" stroke="#f8dc88" stroke-width="0.6" fill="none"/>
<path d="M244.96 51.62V68.03M243.66 51.62H246.26M243.66 68.03H246.26" stroke="#f8dc88" stroke-width="0.6" fill="none"/>
<path d="M40.4,115.48 42.5,115.07 45.3,114.53 48.63,113.89 52.33,113.17 56.25,112.4 60.22,111.6 64.08,110.8 67.67,110.01 71.08,109.25 74.49,108.51 77.9,107.75 81.31,106.96 84.72,106.13 88.13,105.23 91.54,104.25 94.95,103.17 98.27,101.99 101.45,100.73 104.58,99.38 107.74,97.97 111,96.5 114.45,94.98 118.16,93.42 122.22,91.82 126.78,90.13 131.81,88.29 137.17,86.37 142.68,84.42 148.19,82.5 153.55,80.66 158.58,78.97 163.14,77.47 167.2,76.19 170.92,75.09 174.36,74.12 177.63,73.24 180.78,72.41 183.91,71.56 187.1,70.67 190.41,69.67 193.82,68.53 197.23,67.28 200.64,65.96 204.05,64.65 207.46,63.38 210.87,62.24 214.28,61.26 217.69,60.51 221.28,60.01 225.15,59.73 229.11,59.6 233.03,59.59 236.73,59.66 240.06,59.75 242.86,59.82 244.96,59.83" fill="none" stroke="#f6c21b" stroke-width="1.1" stroke-linejoin="round"/>
<path d="M40.4 113.29L42.59 117.12L38.21 117.12Z" fill="#f6c21b"/>
<path d="M67.67 107.82L69.86 111.65L65.49 111.65Z" fill="#f6c21b"/>
<path d="M94.95 100.99L97.14 104.82L92.76 104.82Z" fill="#f6c21b"/>
<path d="M122.22 89.64L124.41 93.47L120.04 93.47Z" fill="#f6c21b"/>
<path d="M163.14 75.28L165.33 79.11L160.95 79.11Z" fill="#f6c21b"/>
<path d="M190.41 67.48L192.6 71.31L188.23 71.31Z" fill="#f6c21b"/>
<path d="M217.69 58.32L219.88 62.15L215.5 62.15Z" fill="#f6c21b"/>
<path d="M244.96 57.64L247.15 61.47L242.78 61.47Z" fill="#f6c21b"/>
<path d="M122.22 88.82V91.55M120.92 88.82H123.52M120.92 91.55H123.52" stroke="#8fd8b4" stroke-width="0.6" fill="none"/>
<path d="M163.14 74.46V77.19M161.84 74.46H164.44M161.84 77.19H164.44" stroke="#8fd8b4" stroke-width="0.6" fill="none"/>
<path d="M190.41 64.61V70.08M189.11 64.61H191.71M189.11 70.08H191.71" stroke="#8fd8b4" stroke-width="0.6" fill="none"/>
<path d="M217.69 56V61.47M216.39 56H218.99M216.39 61.47H218.99" stroke="#8fd8b4" stroke-width="0.6" fill="none"/>
<path d="M244.96 49.57V57.77M243.66 49.57H246.26M243.66 57.77H246.26" stroke="#8fd8b4" stroke-width="0.6" fill="none"/>
<path d="M40.4,115.48 42.5,114.94 45.3,114.22 48.63,113.36 52.33,112.41 56.25,111.39 60.22,110.35 64.08,109.34 67.67,108.37 71.08,107.46 74.49,106.56 77.9,105.67 81.31,104.76 84.72,103.82 88.13,102.84 91.54,101.81 94.95,100.71 98.27,99.56 101.45,98.37 104.58,97.14 107.74,95.87 111,94.54 114.45,93.15 118.16,91.7 122.22,90.18 126.78,88.53 131.81,86.73 137.17,84.82 142.68,82.88 148.19,80.95 153.55,79.09 158.58,77.36 163.14,75.82 167.2,74.48 170.92,73.3 174.36,72.22 177.63,71.23 180.78,70.28 183.91,69.34 187.1,68.37 190.41,67.35 193.82,66.25 197.23,65.12 200.64,63.97 204.05,62.83 207.46,61.71 210.87,60.64 214.28,59.64 217.69,58.73 221.28,57.89 225.15,57.1 229.11,56.35 233.03,55.66 236.73,55.04 240.06,54.5 242.86,54.04 244.96,53.67" fill="none" stroke="#1fae6b" stroke-width="1.1" stroke-linejoin="round"/>
<path d="M40.4 117.67L42.59 113.84L38.21 113.84Z" fill="#1fae6b"/>
<path d="M67.67 110.56L69.86 106.73L65.49 106.73Z" fill="#1fae6b"/>
<path d="M94.95 102.9L97.14 99.07L92.76 99.07Z" fill="#1fae6b"/>
<path d="M122.22 92.37L124.41 88.54L120.04 88.54Z" fill="#1fae6b"/>
<path d="M163.14 78.01L165.33 74.18L160.95 74.18Z" fill="#1fae6b"/>
<path d="M190.41 69.53L192.6 65.71L188.23 65.71Z" fill="#1fae6b"/>
<path d="M217.69 60.92L219.88 57.09L215.5 57.09Z" fill="#1fae6b"/>
<path d="M244.96 55.86L247.15 52.03L242.78 52.03Z" fill="#1fae6b"/>
<path d="M217.69 59.69V65.16M216.39 59.69H218.99M216.39 65.16H218.99" stroke="#b0b0d8" stroke-width="0.6" fill="none"/>
<path d="M244.96 48.89V54.36M243.66 48.89H246.26M243.66 54.36H246.26" stroke="#b0b0d8" stroke-width="0.6" fill="none"/>
<path d="M40.4,112.75 42.5,112.27 45.3,111.64 48.63,110.89 52.33,110.06 56.25,109.17 60.22,108.28 64.08,107.41 67.67,106.59 71.08,105.84 74.49,105.1 77.9,104.38 81.31,103.65 84.72,102.9 88.13,102.12 91.54,101.31 94.95,100.44 98.27,99.55 101.45,98.66 104.58,97.75 107.74,96.81 111,95.8 114.45,94.72 118.16,93.54 122.22,92.23 126.78,90.76 131.81,89.1 137.17,87.33 142.68,85.48 148.19,83.63 153.55,81.82 158.58,80.11 163.14,78.56 167.2,77.15 170.92,75.81 174.36,74.54 177.63,73.33 180.78,72.18 183.91,71.07 187.1,70.01 190.41,68.99 193.82,68.05 197.23,67.23 200.64,66.49 204.05,65.78 207.46,65.06 210.87,64.29 214.28,63.43 217.69,62.42 221.28,61.2 225.15,59.77 229.11,58.21 233.03,56.61 236.73,55.07 240.06,53.66 242.86,52.48 244.96,51.62" fill="none" stroke="#5b5ba6" stroke-width="1.1" stroke-linejoin="round"/>
<path d="M40.4 110.47L42.67 112.75L40.4 115.02L38.12 112.75Z" fill="#5b5ba6"/>
<path d="M67.67 104.32L69.95 106.59L67.67 108.87L65.4 106.59Z" fill="#5b5ba6"/>
<path d="M94.95 98.16L97.23 100.44L94.95 102.72L92.67 100.44Z" fill="#5b5ba6"/>
<path d="M122.22 89.96L124.5 92.23L122.22 94.51L119.95 92.23Z" fill="#5b5ba6"/>
<path d="M163.14 76.28L165.41 78.56L163.14 80.84L160.86 78.56Z" fill="#5b5ba6"/>
<path d="M190.41 66.71L192.69 68.99L190.41 71.26L188.14 68.99Z" fill="#5b5ba6"/>
<path d="M217.69 60.15L219.96 62.42L217.69 64.7L215.41 62.42Z" fill="#5b5ba6"/>
<path d="M244.96 49.35L247.24 51.62L244.96 53.9L242.69 51.62Z" fill="#5b5ba6"/>
<path d="M44.7 43.1H58.8" stroke="#e8262c" stroke-width="0.9"/>
<rect x="50.17" y="41.52" width="3.15" height="3.15" fill="#e8262c"/>
<text transform="translate(61 45.2) scale(1 1.1)" font-family='"Liberation Serif", serif' font-size="6.05" font-weight="bold" text-anchor="start" fill="#111" stroke="#111" stroke-width="0.2">A-C/N=0.134</text>
<path d="M44.7 50.85H58.8" stroke="#2b57a6" stroke-width="0.9"/>
<circle cx="51.75" cy="50.85" r="1.75" fill="#2b57a6"/>
<text transform="translate(61 52.95) scale(1 1.1)" font-family='"Liberation Serif", serif' font-size="6.05" font-weight="bold" text-anchor="start" fill="#111" stroke="#111" stroke-width="0.2">B-C/N=0.267</text>
<path d="M44.7 58.6H58.8" stroke="#f6c21b" stroke-width="0.9"/>
<path d="M51.75 56.41L53.94 60.24L49.56 60.24Z" fill="#f6c21b"/>
<text transform="translate(61 60.7) scale(1 1.1)" font-family='"Liberation Serif", serif' font-size="6.05" font-weight="bold" text-anchor="start" fill="#111" stroke="#111" stroke-width="0.2">C-C/N=0.401</text>
<path d="M44.7 66.35H58.8" stroke="#1fae6b" stroke-width="0.9"/>
<path d="M51.75 68.54L53.94 64.71L49.56 64.71Z" fill="#1fae6b"/>
<text transform="translate(61 68.45) scale(1 1.1)" font-family='"Liberation Serif", serif' font-size="6.05" font-weight="bold" text-anchor="start" fill="#111" stroke="#111" stroke-width="0.2">D-C/N=0.535</text>
<path d="M44.7 74.1H58.8" stroke="#5b5ba6" stroke-width="0.9"/>
<path d="M51.75 71.82L54.02 74.1L51.75 76.38L49.48 74.1Z" fill="#5b5ba6"/>
<text transform="translate(61 76.2) scale(1 1.1)" font-family='"Liberation Serif", serif' font-size="6.05" font-weight="bold" text-anchor="start" fill="#111" stroke="#111" stroke-width="0.2">E-C/N=0.692</text>
<path d="M376.6 92.69V95.43M375.3 92.69H377.9M375.3 95.43H377.9" stroke="#90dcae" stroke-width="0.6" fill="none"/>
<path d="M405.87 83.07V85.82M404.57 83.07H407.17M404.57 85.82H407.17" stroke="#90dcae" stroke-width="0.6" fill="none"/>
<path d="M435.13 70.43V75.93M433.83 70.43H436.43M433.83 75.93H436.43" stroke="#90dcae" stroke-width="0.6" fill="none"/>
<path d="M464.4 59.17V67.41M463.1 59.17H465.7M463.1 67.41H465.7" stroke="#90dcae" stroke-width="0.6" fill="none"/>
<path d="M493.67 55.32V58.07M492.37 55.32H494.97M492.37 58.07H494.97" stroke="#90dcae" stroke-width="0.6" fill="none"/>
<path d="M288.8,118.79 289.93,118.62 291.43,118.41 293.22,118.16 295.2,117.88 297.3,117.56 299.43,117.22 301.5,116.84 303.43,116.45 305.16,116.04 306.75,115.61 308.28,115.16 309.84,114.67 311.51,114.16 313.38,113.6 315.54,112.99 318.07,112.33 321.02,111.63 324.35,110.91 327.97,110.15 331.79,109.35 335.72,108.49 339.67,107.56 343.57,106.56 347.33,105.46 350.99,104.24 354.65,102.89 358.31,101.44 361.97,99.93 365.62,98.4 369.28,96.89 372.94,95.43 376.6,94.06 380.26,92.78 383.92,91.57 387.58,90.39 391.23,89.24 394.89,88.09 398.55,86.92 402.21,85.71 405.87,84.44 409.52,83.1 413.18,81.71 416.84,80.28 420.5,78.83 424.16,77.37 427.82,75.94 431.47,74.53 435.13,73.18 438.79,71.85 442.45,70.53 446.11,69.22 449.77,67.94 453.43,66.69 457.08,65.5 460.74,64.36 464.4,63.29 468.26,62.26 472.4,61.25 476.66,60.28 480.86,59.37 484.84,58.54 488.41,57.8 491.41,57.18 493.67,56.69" fill="none" stroke="#20b25c" stroke-width="1.1" stroke-linejoin="round"/>
<circle cx="288.8" cy="118.79" r="1.75" fill="#20b25c"/>
<circle cx="303.43" cy="116.45" r="1.75" fill="#20b25c"/>
<circle cx="318.07" cy="112.33" r="1.75" fill="#20b25c"/>
<circle cx="347.33" cy="105.46" r="1.75" fill="#20b25c"/>
<circle cx="376.6" cy="94.06" r="1.75" fill="#20b25c"/>
<circle cx="405.87" cy="84.44" r="1.75" fill="#20b25c"/>
<circle cx="435.13" cy="73.18" r="1.75" fill="#20b25c"/>
<circle cx="464.4" cy="63.29" r="1.75" fill="#20b25c"/>
<circle cx="493.67" cy="56.69" r="1.75" fill="#20b25c"/>
<path d="M435.13 67V69.74M433.83 67H436.43M433.83 69.74H436.43" stroke="#90cdeb" stroke-width="0.6" fill="none"/>
<path d="M464.4 56.69V62.19M463.1 56.69H465.7M463.1 62.19H465.7" stroke="#90cdeb" stroke-width="0.6" fill="none"/>
<path d="M493.67 46.39V54.63M492.37 46.39H494.97M492.37 54.63H494.97" stroke="#90cdeb" stroke-width="0.6" fill="none"/>
<path d="M288.8,117.83 289.93,117.68 291.43,117.52 293.22,117.32 295.2,117.1 297.3,116.83 299.43,116.52 301.5,116.17 303.43,115.76 305.16,115.32 306.75,114.84 308.28,114.31 309.84,113.75 311.51,113.13 313.38,112.46 315.54,111.74 318.07,110.96 321.02,110.12 324.35,109.23 327.97,108.3 331.79,107.31 335.72,106.26 339.67,105.14 343.57,103.96 347.33,102.71 350.99,101.35 354.65,99.85 358.31,98.26 361.97,96.62 365.62,94.97 369.28,93.34 372.94,91.79 376.6,90.35 380.26,89.04 383.92,87.82 387.58,86.66 391.23,85.54 394.89,84.42 398.55,83.27 402.21,82.05 405.87,80.73 409.52,79.3 413.18,77.76 416.84,76.15 420.5,74.51 424.16,72.88 427.82,71.28 431.47,69.77 435.13,68.37 438.79,67.09 442.45,65.9 446.11,64.77 449.77,63.69 453.43,62.64 457.08,61.59 460.74,60.53 464.4,59.44 468.26,58.26 472.4,57 476.66,55.7 480.86,54.42 484.84,53.21 488.41,52.12 491.41,51.2 493.67,50.51" fill="none" stroke="#1f9bd7" stroke-width="1.1" stroke-linejoin="round"/>
<path d="M290.99 117.83L287.16 115.64L287.16 120.01Z" fill="#1f9bd7"/>
<path d="M305.62 115.76L301.79 113.58L301.79 117.95Z" fill="#1f9bd7"/>
<path d="M320.25 110.96L316.43 108.77L316.43 113.14Z" fill="#1f9bd7"/>
<path d="M349.52 102.71L345.69 100.53L345.69 104.9Z" fill="#1f9bd7"/>
<path d="M378.79 90.35L374.96 88.16L374.96 92.54Z" fill="#1f9bd7"/>
<path d="M408.05 80.73L404.23 78.55L404.23 82.92Z" fill="#1f9bd7"/>
<path d="M437.32 68.37L433.49 66.18L433.49 70.56Z" fill="#1f9bd7"/>
<path d="M466.59 59.44L462.76 57.25L462.76 61.63Z" fill="#1f9bd7"/>
<path d="M495.85 50.51L492.03 48.32L492.03 52.7Z" fill="#1f9bd7"/>
<path d="M435.13 66.31V69.06M433.83 66.31H436.43M433.83 69.06H436.43" stroke="#f9d290" stroke-width="0.6" fill="none"/>
<path d="M464.4 56.69V62.19M463.1 56.69H465.7M463.1 62.19H465.7" stroke="#f9d290" stroke-width="0.6" fill="none"/>
<path d="M493.67 51.2V56.69M492.37 51.2H494.97M492.37 56.69H494.97" stroke="#f9d290" stroke-width="0.6" fill="none"/>
<path d="M288.8,116.45 289.93,116.34 291.43,116.22 293.22,116.08 295.2,115.91 297.3,115.7 299.43,115.46 301.5,115.16 303.43,114.8 305.16,114.4 306.75,113.96 308.28,113.48 309.84,112.95 311.51,112.37 313.38,111.73 315.54,111.03 318.07,110.27 321.02,109.44 324.35,108.57 327.97,107.63 331.79,106.64 335.72,105.58 339.67,104.46 343.57,103.28 347.33,102.03 350.99,100.66 354.65,99.18 358.31,97.6 361.97,95.97 365.62,94.33 369.28,92.71 372.94,91.14 376.6,89.66 380.26,88.29 383.92,86.97 387.58,85.71 391.23,84.47 394.89,83.23 398.55,81.98 402.21,80.7 405.87,79.36 409.52,77.94 413.18,76.46 416.84,74.93 420.5,73.39 424.16,71.87 427.82,70.39 431.47,68.99 435.13,67.68 438.79,66.47 442.45,65.32 446.11,64.22 449.77,63.18 453.43,62.18 457.08,61.23 460.74,60.32 464.4,59.44 468.26,58.58 472.4,57.74 476.66,56.94 480.86,56.18 484.84,55.48 488.41,54.87 491.41,54.35 493.67,53.95" fill="none" stroke="#f5a31d" stroke-width="1.1" stroke-linejoin="round"/>
<path d="M290.9 116.45L289.23 116.02L288.8 114.35L288.37 116.02L286.7 116.45L288.37 116.88L288.8 118.55L289.23 116.88Z" fill="#f5a31d"/>
<path d="M305.53 114.8L303.87 114.37L303.43 112.7L303 114.37L301.33 114.8L303 115.24L303.43 116.9L303.87 115.24Z" fill="#f5a31d"/>
<path d="M320.17 110.27L318.5 109.84L318.07 108.17L317.63 109.84L315.97 110.27L317.63 110.7L318.07 112.37L318.5 110.7Z" fill="#f5a31d"/>
<path d="M349.43 102.03L347.77 101.59L347.33 99.93L346.9 101.59L345.23 102.03L346.9 102.46L347.33 104.13L347.77 102.46Z" fill="#f5a31d"/>
<path d="M378.7 89.66L377.03 89.23L376.6 87.56L376.17 89.23L374.5 89.66L376.17 90.1L376.6 91.76L377.03 90.1Z" fill="#f5a31d"/>
<path d="M407.97 79.36L406.3 78.93L405.87 77.26L405.43 78.93L403.77 79.36L405.43 79.79L405.87 81.46L406.3 79.79Z" fill="#f5a31d"/>
<path d="M437.23 67.68L435.57 67.25L435.13 65.58L434.7 67.25L433.03 67.68L434.7 68.12L435.13 69.78L435.57 68.12Z" fill="#f5a31d"/>
<path d="M466.5 59.44L464.83 59.01L464.4 57.34L463.97 59.01L462.3 59.44L463.97 59.87L464.4 61.54L464.83 59.87Z" fill="#f5a31d"/>
<path d="M495.77 53.95L494.1 53.51L493.67 51.85L493.23 53.51L491.57 53.95L493.23 54.38L493.67 56.05L494.1 54.38Z" fill="#f5a31d"/>
<path d="M435.13 65.62V68.37M433.83 65.62H436.43M433.83 68.37H436.43" stroke="#f6a0a8" stroke-width="0.6" fill="none"/>
<path d="M464.4 53.95V56.69M463.1 53.95H465.7M463.1 56.69H465.7" stroke="#f6a0a8" stroke-width="0.6" fill="none"/>
<path d="M493.67 50.51V56.01M492.37 50.51H494.97M492.37 56.01H494.97" stroke="#f6a0a8" stroke-width="0.6" fill="none"/>
<path d="M288.8,116.45 289.93,116.31 291.43,116.15 293.22,115.96 295.2,115.74 297.3,115.48 299.43,115.17 301.5,114.81 303.43,114.39 305.16,113.92 306.75,113.41 308.28,112.84 309.84,112.24 311.51,111.58 313.38,110.87 315.54,110.11 318.07,109.31 321.02,108.46 324.35,107.59 327.97,106.68 331.79,105.71 335.72,104.68 339.67,103.57 343.57,102.37 347.33,101.07 350.99,99.61 354.65,97.98 358.31,96.23 361.97,94.42 365.62,92.6 369.28,90.82 372.94,89.14 376.6,87.6 380.26,86.23 383.92,84.96 387.58,83.78 391.23,82.64 394.89,81.52 398.55,80.4 402.21,79.23 405.87,77.99 409.52,76.68 413.18,75.35 416.84,74 420.5,72.62 424.16,71.23 427.82,69.82 431.47,68.41 435.13,67 438.79,65.5 442.45,63.9 446.11,62.25 449.77,60.6 453.43,59.02 457.08,57.58 460.74,56.32 464.4,55.32 468.26,54.59 472.4,54.08 476.66,53.75 480.86,53.56 484.84,53.46 488.41,53.4 491.41,53.35 493.67,53.26" fill="none" stroke="#ee3a4b" stroke-width="1.1" stroke-linejoin="round"/>
<circle cx="288.8" cy="116.45" r="1.75" fill="#ee3a4b"/>
<circle cx="303.43" cy="114.39" r="1.75" fill="#ee3a4b"/>
<circle cx="318.07" cy="109.31" r="1.75" fill="#ee3a4b"/>
<circle cx="347.33" cy="101.07" r="1.75" fill="#ee3a4b"/>
<circle cx="376.6" cy="87.6" r="1.75" fill="#ee3a4b"/>
<circle cx="405.87" cy="77.99" r="1.75" fill="#ee3a4b"/>
<circle cx="435.13" cy="67" r="1.75" fill="#ee3a4b"/>
<circle cx="464.4" cy="55.32" r="1.75" fill="#ee3a4b"/>
<circle cx="493.67" cy="53.26" r="1.75" fill="#ee3a4b"/>
<path d="M291.6 44.6H306" stroke="#20b25c" stroke-width="0.9"/>
<circle cx="298.8" cy="44.6" r="1.75" fill="#20b25c"/>
<text transform="translate(307.9 46.7) scale(1 1.1)" font-family='"Liberation Serif", serif' font-size="6.17" font-weight="bold" text-anchor="start" fill="#111" stroke="#111" stroke-width="0.2">D-1-C/N=0.535</text>
<path d="M291.6 52.45H306" stroke="#1f9bd7" stroke-width="0.9"/>
<path d="M300.99 52.45L297.16 50.26L297.16 54.64Z" fill="#1f9bd7"/>
<text transform="translate(307.9 54.55) scale(1 1.1)" font-family='"Liberation Serif", serif' font-size="6.17" font-weight="bold" text-anchor="start" fill="#111" stroke="#111" stroke-width="0.2">F-C/N=2.673</text>
<path d="M291.6 60.3H306" stroke="#ee3a4b" stroke-width="0.9"/>
<circle cx="298.8" cy="60.3" r="1.75" fill="#ee3a4b"/>
<text transform="translate(307.9 62.4) scale(1 1.1)" font-family='"Liberation Serif", serif' font-size="6.17" font-weight="bold" text-anchor="start" fill="#111" stroke="#111" stroke-width="0.2">G-C/N=5</text>
<path d="M291.6 68.15H306" stroke="#f5a31d" stroke-width="0.9"/>
<path d="M300.9 68.15L299.23 67.72L298.8 66.05L298.37 67.72L296.7 68.15L298.37 68.58L298.8 70.25L299.23 68.58Z" fill="#f5a31d"/>
<text transform="translate(307.9 70.25) scale(1 1.1)" font-family='"Liberation Serif", serif' font-size="6.17" font-weight="bold" text-anchor="start" fill="#111" stroke="#111" stroke-width="0.2">H-C/N=11</text>
<path d="M190.82 180.1V183.2M189.52 180.1H192.12M189.52 183.2H192.12" stroke="#f0a0a0" stroke-width="0.6" fill="none"/>
<path d="M218.17 178.24V184.44M216.87 178.24H219.47M216.87 184.44H219.47" stroke="#f0a0a0" stroke-width="0.6" fill="none"/>
<path d="M245.52 179.48V182.58M244.22 179.48H246.82M244.22 182.58H246.82" stroke="#f0a0a0" stroke-width="0.6" fill="none"/>
<path d="M40.4,230.06 42.51,229.81 45.31,229.52 48.65,229.18 52.37,228.78 56.29,228.3 60.27,227.74 64.14,227.09 67.75,226.33 71.17,225.47 74.59,224.51 78.01,223.45 81.42,222.32 84.84,221.1 88.26,219.81 91.68,218.45 95.1,217.02 98.43,215.49 101.62,213.82 104.76,212.06 107.92,210.24 111.19,208.39 114.65,206.55 118.38,204.76 122.45,203.06 127.02,201.41 132.07,199.77 137.43,198.14 142.96,196.54 148.49,194.99 153.86,193.48 158.91,192.03 163.47,190.65 167.55,189.3 171.27,187.96 174.73,186.64 178,185.39 181.17,184.24 184.31,183.21 187.5,182.34 190.82,181.65 194.24,181.2 197.66,180.96 201.08,180.9 204.5,180.95 207.92,181.08 211.34,181.21 214.76,181.32 218.17,181.34 221.78,181.3 225.65,181.26 229.63,181.21 233.56,181.17 237.27,181.12 240.61,181.09 243.41,181.05 245.52,181.03" fill="none" stroke="#e8262c" stroke-width="1.1" stroke-linejoin="round"/>
<rect x="38.82" y="228.48" width="3.15" height="3.15" fill="#e8262c"/>
<rect x="66.17" y="224.76" width="3.15" height="3.15" fill="#e8262c"/>
<rect x="93.52" y="215.45" width="3.15" height="3.15" fill="#e8262c"/>
<rect x="120.87" y="201.49" width="3.15" height="3.15" fill="#e8262c"/>
<rect x="161.9" y="189.07" width="3.15" height="3.15" fill="#e8262c"/>
<rect x="189.25" y="180.08" width="3.15" height="3.15" fill="#e8262c"/>
<rect x="216.6" y="179.77" width="3.15" height="3.15" fill="#e8262c"/>
<rect x="243.95" y="179.46" width="3.15" height="3.15" fill="#e8262c"/>
<path d="M163.47 177.31V181.65M162.17 177.31H164.78M162.17 181.65H164.78" stroke="#9fb4dc" stroke-width="0.6" fill="none"/>
<path d="M190.82 174.2V177.31M189.52 174.2H192.12M189.52 177.31H192.12" stroke="#9fb4dc" stroke-width="0.6" fill="none"/>
<path d="M218.17 174.2V177.31M216.87 174.2H219.47M216.87 177.31H219.47" stroke="#9fb4dc" stroke-width="0.6" fill="none"/>
<path d="M245.52 170.48V175.45M244.22 170.48H246.82M244.22 175.45H246.82" stroke="#9fb4dc" stroke-width="0.6" fill="none"/>
<path d="M40.4,228.81 42.51,228.23 45.31,227.47 48.65,226.57 52.37,225.56 56.29,224.47 60.27,223.33 64.14,222.18 67.75,221.06 71.17,219.96 74.59,218.86 78.01,217.74 81.42,216.58 84.84,215.36 88.26,214.05 91.68,212.65 95.1,211.13 98.43,209.46 101.62,207.66 104.76,205.75 107.92,203.76 111.19,201.72 114.65,199.67 118.38,197.62 122.45,195.61 127.02,193.54 132.07,191.33 137.43,189.06 142.96,186.81 148.49,184.65 153.86,182.65 158.91,180.91 163.47,179.48 167.55,178.39 171.27,177.59 174.73,177.01 178,176.61 181.17,176.33 184.31,176.13 187.5,175.96 190.82,175.76 194.24,175.6 197.66,175.56 201.08,175.61 204.5,175.7 207.92,175.8 211.34,175.86 214.76,175.86 218.17,175.76 221.78,175.52 225.65,175.19 229.63,174.79 233.56,174.36 237.27,173.93 240.61,173.53 243.41,173.2 245.52,172.96" fill="none" stroke="#2b57a6" stroke-width="1.1" stroke-linejoin="round"/>
<circle cx="40.4" cy="228.81" r="1.75" fill="#2b57a6"/>
<circle cx="67.75" cy="221.06" r="1.75" fill="#2b57a6"/>
<circle cx="95.1" cy="211.13" r="1.75" fill="#2b57a6"/>
<circle cx="122.45" cy="195.61" r="1.75" fill="#2b57a6"/>
<circle cx="163.47" cy="179.48" r="1.75" fill="#2b57a6"/>
<circle cx="190.82" cy="175.76" r="1.75" fill="#2b57a6"/>
<circle cx="218.17" cy="175.76" r="1.75" fill="#2b57a6"/>
<circle cx="245.52" cy="172.96" r="1.75" fill="#2b57a6"/>
<path d="M122.45 193.13V196.23M121.15 193.13H123.75M121.15 196.23H123.75" stroke="#f8dc88" stroke-width="0.6" fill="none"/>
<path d="M163.47 180.72V183.82M162.17 180.72H164.78M162.17 183.82H164.78" stroke="#f8dc88" stroke-width="0.6" fill="none"/>
<path d="M190.82 176.07V179.17M189.52 176.07H192.12M189.52 179.17H192.12" stroke="#f8dc88" stroke-width="0.6" fill="none"/>
<path d="M218.17 176.69V182.89M216.87 176.69H219.47M216.87 182.89H219.47" stroke="#f8dc88" stroke-width="0.6" fill="none"/>
<path d="M245.52 168V202.13M244.22 168H246.82M244.22 202.13H246.82" stroke="#f8dc88" stroke-width="0.6" fill="none"/>
<path d="M40.4,230.37 42.51,229.74 45.31,228.94 48.65,227.99 52.37,226.91 56.29,225.75 60.27,224.52 64.14,223.26 67.75,221.99 71.17,220.7 74.59,219.37 78.01,217.98 81.42,216.54 84.84,215.04 88.26,213.49 91.68,211.87 95.1,210.2 98.43,208.41 101.62,206.51 104.76,204.52 107.92,202.48 111.19,200.44 114.65,198.43 118.38,196.5 122.45,194.68 127.02,192.93 132.07,191.18 137.43,189.46 142.96,187.8 148.49,186.22 153.86,184.76 158.91,183.43 163.47,182.27 167.55,181.27 171.27,180.4 174.73,179.66 178,179.03 181.17,178.52 184.31,178.12 187.5,177.82 190.82,177.62 194.24,177.54 197.66,177.61 201.08,177.8 204.5,178.08 207.92,178.45 211.34,178.87 214.76,179.32 218.17,179.79 221.78,180.34 225.65,181.01 229.63,181.77 233.56,182.56 237.27,183.34 240.61,184.04 243.41,184.64 245.52,185.06" fill="none" stroke="#f6c21b" stroke-width="1.1" stroke-linejoin="round"/>
<path d="M40.4 228.18L42.59 232.01L38.21 232.01Z" fill="#f6c21b"/>
<path d="M67.75 219.8L69.94 223.63L65.56 223.63Z" fill="#f6c21b"/>
<path d="M95.1 208.01L97.29 211.84L92.91 211.84Z" fill="#f6c21b"/>
<path d="M122.45 192.5L124.64 196.32L120.26 196.32Z" fill="#f6c21b"/>
<path d="M163.47 180.08L165.66 183.91L161.29 183.91Z" fill="#f6c21b"/>
<path d="M190.82 175.43L193.01 179.26L188.64 179.26Z" fill="#f6c21b"/>
<path d="M218.17 177.6L220.36 181.43L215.99 181.43Z" fill="#f6c21b"/>
<path d="M245.52 182.88L247.71 186.7L243.34 186.7Z" fill="#f6c21b"/>
<path d="M95.1 206.47V210.82M93.8 206.47H96.4M93.8 210.82H96.4" stroke="#8fd8b4" stroke-width="0.6" fill="none"/>
<path d="M122.45 190.03V194.99M121.15 190.03H123.75M121.15 194.99H123.75" stroke="#8fd8b4" stroke-width="0.6" fill="none"/>
<path d="M163.47 179.17V182.27M162.17 179.17H164.78M162.17 182.27H164.78" stroke="#8fd8b4" stroke-width="0.6" fill="none"/>
<path d="M190.82 175.13V178.24M189.52 175.13H192.12M189.52 178.24H192.12" stroke="#8fd8b4" stroke-width="0.6" fill="none"/>
<path d="M218.17 177V180.1M216.87 177H219.47M216.87 180.1H219.47" stroke="#8fd8b4" stroke-width="0.6" fill="none"/>
<path d="M245.52 175.13V178.24M244.22 175.13H246.82M244.22 178.24H246.82" stroke="#8fd8b4" stroke-width="0.6" fill="none"/>
<path d="M40.4,229.75 42.51,229.1 45.31,228.27 48.65,227.29 52.37,226.18 56.29,224.97 60.27,223.69 64.14,222.38 67.75,221.06 71.17,219.71 74.59,218.3 78.01,216.84 81.42,215.32 84.84,213.74 88.26,212.1 91.68,210.4 95.1,208.65 98.43,206.78 101.62,204.77 104.76,202.68 107.92,200.54 111.19,198.41 114.65,196.33 118.38,194.35 122.45,192.51 127.02,190.78 132.07,189.08 137.43,187.43 142.96,185.86 148.49,184.38 153.86,183.02 158.91,181.79 163.47,180.72 167.55,179.8 171.27,179.03 174.73,178.38 178,177.85 181.17,177.43 184.31,177.1 187.5,176.86 190.82,176.69 194.24,176.66 197.66,176.82 201.08,177.12 204.5,177.48 207.92,177.86 211.34,178.21 214.76,178.45 218.17,178.55 221.78,178.48 225.65,178.3 229.63,178.04 233.56,177.73 237.27,177.41 240.61,177.11 243.41,176.86 245.52,176.69" fill="none" stroke="#1fae6b" stroke-width="1.1" stroke-linejoin="round"/>
<path d="M40.4 231.93L42.59 228.1L38.21 228.1Z" fill="#1fae6b"/>
<path d="M67.75 223.24L69.94 219.42L65.56 219.42Z" fill="#1fae6b"/>
<path d="M95.1 210.83L97.29 207.01L92.91 207.01Z" fill="#1fae6b"/>
<path d="M122.45 194.7L124.64 190.87L120.26 190.87Z" fill="#1fae6b"/>
<path d="M163.47 182.91L165.66 179.08L161.29 179.08Z" fill="#1fae6b"/>
<path d="M190.82 178.87L193.01 175.05L188.64 175.05Z" fill="#1fae6b"/>
<path d="M218.17 180.74L220.36 176.91L215.99 176.91Z" fill="#1fae6b"/>
<path d="M245.52 178.87L247.71 175.05L243.34 175.05Z" fill="#1fae6b"/>
<path d="M218.17 172.34V188.48M216.87 172.34H219.47M216.87 188.48H219.47" stroke="#b0b0d8" stroke-width="0.6" fill="none"/>
<path d="M245.52 174.82V177.93M244.22 174.82H246.82M244.22 177.93H246.82" stroke="#b0b0d8" stroke-width="0.6" fill="none"/>
<path d="M40.4,228.81 42.51,228.22 45.31,227.42 48.65,226.47 52.37,225.42 56.29,224.31 60.27,223.18 64.14,222.08 67.75,221.06 71.17,220.15 74.59,219.34 78.01,218.56 81.42,217.76 84.84,216.89 88.26,215.89 91.68,214.72 95.1,213.3 98.43,211.58 101.62,209.58 104.76,207.38 107.92,205.06 111.19,202.7 114.65,200.39 118.38,198.21 122.45,196.23 127.02,194.41 132.07,192.63 137.43,190.91 142.96,189.27 148.49,187.73 153.86,186.29 158.91,184.99 163.47,183.82 167.55,182.8 171.27,181.91 174.73,181.13 178,180.47 181.17,179.92 184.31,179.47 187.5,179.12 190.82,178.86 194.24,178.78 197.66,178.92 201.08,179.21 204.5,179.58 207.92,179.95 211.34,180.26 214.76,180.44 218.17,180.41 221.78,180.15 225.65,179.7 229.63,179.13 233.56,178.49 237.27,177.84 240.61,177.23 243.41,176.73 245.52,176.38" fill="none" stroke="#5b5ba6" stroke-width="1.1" stroke-linejoin="round"/>
<path d="M40.4 226.54L42.67 228.81L40.4 231.09L38.12 228.81Z" fill="#5b5ba6"/>
<path d="M67.75 218.78L70.03 221.06L67.75 223.33L65.47 221.06Z" fill="#5b5ba6"/>
<path d="M95.1 211.03L97.38 213.3L95.1 215.58L92.82 213.3Z" fill="#5b5ba6"/>
<path d="M122.45 193.96L124.72 196.23L122.45 198.51L120.17 196.23Z" fill="#5b5ba6"/>
<path d="M163.47 181.55L165.75 183.82L163.47 186.1L161.2 183.82Z" fill="#5b5ba6"/>
<path d="M190.82 176.58L193.1 178.86L190.82 181.13L188.55 178.86Z" fill="#5b5ba6"/>
<path d="M218.17 178.13L220.45 180.41L218.17 182.68L215.9 180.41Z" fill="#5b5ba6"/>
<path d="M245.52 174.1L247.8 176.38L245.52 178.65L243.25 176.38Z" fill="#5b5ba6"/>
<path d="M44.4 165.6H57.8" stroke="#e8262c" stroke-width="0.9"/>
<rect x="49.52" y="164.03" width="3.15" height="3.15" fill="#e8262c"/>
<text transform="translate(60.2 167.7) scale(1 1.1)" font-family='"Liberation Serif", serif' font-size="6.1" font-weight="bold" text-anchor="start" fill="#111" stroke="#111" stroke-width="0.2">A-C/N=0.134</text>
<path d="M44.4 173.55H57.8" stroke="#2b57a6" stroke-width="0.9"/>
<circle cx="51.1" cy="173.55" r="1.75" fill="#2b57a6"/>
<text transform="translate(60.2 175.65) scale(1 1.1)" font-family='"Liberation Serif", serif' font-size="6.1" font-weight="bold" text-anchor="start" fill="#111" stroke="#111" stroke-width="0.2">B-C/N=0.267</text>
<path d="M44.4 181.5H57.8" stroke="#f6c21b" stroke-width="0.9"/>
<path d="M51.1 179.31L53.29 183.14L48.91 183.14Z" fill="#f6c21b"/>
<text transform="translate(60.2 183.6) scale(1 1.1)" font-family='"Liberation Serif", serif' font-size="6.1" font-weight="bold" text-anchor="start" fill="#111" stroke="#111" stroke-width="0.2">C-C/N=0.401</text>
<path d="M44.4 189.45H57.8" stroke="#1fae6b" stroke-width="0.9"/>
<path d="M51.1 191.64L53.29 187.81L48.91 187.81Z" fill="#1fae6b"/>
<text transform="translate(60.2 191.55) scale(1 1.1)" font-family='"Liberation Serif", serif' font-size="6.1" font-weight="bold" text-anchor="start" fill="#111" stroke="#111" stroke-width="0.2">D-C/N=0.535</text>
<path d="M44.4 197.4H57.8" stroke="#5b5ba6" stroke-width="0.9"/>
<path d="M51.1 195.12L53.37 197.4L51.1 199.68L48.82 197.4Z" fill="#5b5ba6"/>
<text transform="translate(60.2 199.5) scale(1 1.1)" font-family='"Liberation Serif", serif' font-size="6.1" font-weight="bold" text-anchor="start" fill="#111" stroke="#111" stroke-width="0.2">E-C/N=0.692</text>
<path d="M376.78 197.17V200.3M375.48 197.17H378.08M375.48 200.3H378.08" stroke="#f9d290" stroke-width="0.6" fill="none"/>
<path d="M406.07 185.57V190.58M404.77 185.57H407.37M404.77 190.58H407.37" stroke="#f9d290" stroke-width="0.6" fill="none"/>
<path d="M435.37 178.36V181.49M434.07 178.36H436.67M434.07 181.49H436.67" stroke="#f9d290" stroke-width="0.6" fill="none"/>
<path d="M464.66 178.67V184.94M463.36 178.67H465.96M463.36 184.94H465.96" stroke="#f9d290" stroke-width="0.6" fill="none"/>
<path d="M493.95 175.85V182.12M492.65 175.85H495.25M492.65 182.12H495.25" stroke="#f9d290" stroke-width="0.6" fill="none"/>
<path d="M288.9,232.9 290.03,232.59 291.53,232.18 293.32,231.69 295.31,231.15 297.41,230.57 299.54,229.98 301.62,229.39 303.55,228.82 305.28,228.3 306.87,227.82 308.4,227.35 309.95,226.86 311.63,226.32 313.5,225.71 315.66,224.98 318.19,224.12 321.15,223.13 324.49,222.05 328.11,220.87 331.92,219.61 335.86,218.27 339.82,216.85 343.72,215.35 347.49,213.78 351.15,212.06 354.81,210.15 358.47,208.12 362.13,206.04 365.8,203.96 369.46,201.96 373.12,200.09 376.78,198.42 380.44,196.95 384.1,195.63 387.76,194.42 391.43,193.29 395.09,192.21 398.75,191.16 402.41,190.11 406.07,189.02 409.74,187.86 413.4,186.64 417.06,185.4 420.72,184.2 424.38,183.07 428.04,182.05 431.71,181.2 435.37,180.55 439.03,180.16 442.69,180 446.35,180 450.01,180.12 453.67,180.3 457.34,180.47 461,180.57 464.66,180.55 468.52,180.42 472.67,180.24 476.93,180.01 481.14,179.77 485.11,179.53 488.69,179.3 491.69,179.12 493.95,178.99" fill="none" stroke="#f5a31d" stroke-width="1.1" stroke-linejoin="round"/>
<path d="M291 232.9L289.33 232.46L288.9 230.8L288.47 232.46L286.8 232.9L288.47 233.33L288.9 235L289.33 233.33Z" fill="#f5a31d"/>
<path d="M305.65 228.82L303.98 228.39L303.55 226.72L303.11 228.39L301.45 228.82L303.11 229.25L303.55 230.92L303.98 229.25Z" fill="#f5a31d"/>
<path d="M320.29 224.12L318.63 223.69L318.19 222.02L317.76 223.69L316.09 224.12L317.76 224.55L318.19 226.22L318.63 224.55Z" fill="#f5a31d"/>
<path d="M349.59 213.78L347.92 213.34L347.49 211.68L347.05 213.34L345.39 213.78L347.05 214.21L347.49 215.88L347.92 214.21Z" fill="#f5a31d"/>
<path d="M378.88 198.73L377.21 198.3L376.78 196.63L376.35 198.3L374.68 198.73L376.35 199.17L376.78 200.83L377.21 199.17Z" fill="#f5a31d"/>
<path d="M408.17 188.08L406.51 187.64L406.07 185.98L405.64 187.64L403.97 188.08L405.64 188.51L406.07 190.18L406.51 188.51Z" fill="#f5a31d"/>
<path d="M437.47 179.93L435.8 179.49L435.37 177.83L434.93 179.49L433.27 179.93L434.93 180.36L435.37 182.03L435.8 180.36Z" fill="#f5a31d"/>
<path d="M466.76 181.81L465.09 181.37L464.66 179.71L464.23 181.37L462.56 181.81L464.23 182.24L464.66 183.91L465.09 182.24Z" fill="#f5a31d"/>
<path d="M496.05 178.99L494.39 178.55L493.95 176.89L493.52 178.55L491.85 178.99L493.52 179.42L493.95 181.09L494.39 179.42Z" fill="#f5a31d"/>
<path d="M376.78 194.97V198.11M375.48 194.97H378.08M375.48 198.11H378.08" stroke="#90dcae" stroke-width="0.6" fill="none"/>
<path d="M406.07 186.82V189.96M404.77 186.82H407.37M404.77 189.96H407.37" stroke="#90dcae" stroke-width="0.6" fill="none"/>
<path d="M435.37 176.17V179.3M434.07 176.17H436.67M434.07 179.3H436.67" stroke="#90dcae" stroke-width="0.6" fill="none"/>
<path d="M464.66 174.6V180.87M463.36 174.6H465.96M463.36 180.87H465.96" stroke="#90dcae" stroke-width="0.6" fill="none"/>
<path d="M493.95 175.23V181.49M492.65 175.23H495.25M492.65 181.49H495.25" stroke="#90dcae" stroke-width="0.6" fill="none"/>
<path d="M288.9,231.33 290.03,231.1 291.53,230.81 293.32,230.47 295.31,230.08 297.41,229.65 299.54,229.18 301.62,228.7 303.55,228.19 305.28,227.69 306.87,227.18 308.4,226.66 309.95,226.1 311.63,225.49 313.5,224.81 315.66,224.04 318.19,223.18 321.15,222.23 324.49,221.23 328.11,220.16 331.92,219.01 335.86,217.77 339.82,216.44 343.72,215.01 347.49,213.46 351.15,211.72 354.81,209.76 358.47,207.65 362.13,205.47 365.8,203.29 369.46,201.18 373.12,199.22 376.78,197.48 380.44,195.96 384.1,194.59 387.76,193.35 391.43,192.19 395.09,191.08 398.75,190 402.41,188.9 406.07,187.76 409.74,186.54 413.4,185.25 417.06,183.95 420.72,182.67 424.38,181.46 428.04,180.36 431.71,179.41 435.37,178.67 439.03,178.15 442.69,177.83 446.35,177.65 450.01,177.6 453.67,177.61 457.34,177.67 461,177.72 464.66,177.73 468.52,177.74 472.67,177.79 476.93,177.88 481.14,177.99 485.11,178.1 488.69,178.21 491.69,178.3 493.95,178.36" fill="none" stroke="#20b25c" stroke-width="1.1" stroke-linejoin="round"/>
<circle cx="288.9" cy="231.33" r="1.75" fill="#20b25c"/>
<circle cx="303.55" cy="228.19" r="1.75" fill="#20b25c"/>
<circle cx="318.19" cy="223.18" r="1.75" fill="#20b25c"/>
<circle cx="347.49" cy="213.46" r="1.75" fill="#20b25c"/>
<circle cx="376.78" cy="196.54" r="1.75" fill="#20b25c"/>
<circle cx="406.07" cy="188.39" r="1.75" fill="#20b25c"/>
<circle cx="435.37" cy="177.73" r="1.75" fill="#20b25c"/>
<circle cx="464.66" cy="177.73" r="1.75" fill="#20b25c"/>
<circle cx="493.95" cy="178.36" r="1.75" fill="#20b25c"/>
<path d="M435.37 174.91V178.05M434.07 174.91H436.67M434.07 178.05H436.67" stroke="#90cdeb" stroke-width="0.6" fill="none"/>
<path d="M464.66 173.66V176.79M463.36 173.66H465.96M463.36 176.79H465.96" stroke="#90cdeb" stroke-width="0.6" fill="none"/>
<path d="M493.95 173.97V177.11M492.65 173.97H495.25M492.65 177.11H495.25" stroke="#90cdeb" stroke-width="0.6" fill="none"/>
<path d="M288.9,231.64 290.03,231.41 291.53,231.12 293.32,230.78 295.31,230.39 297.41,229.96 299.54,229.5 301.62,229.01 303.55,228.51 305.28,228.01 306.87,227.51 308.4,227 309.95,226.45 311.63,225.85 313.5,225.17 315.66,224.39 318.19,223.49 321.15,222.5 324.49,221.42 328.11,220.27 331.92,219.03 335.86,217.7 339.82,216.28 343.72,214.76 347.49,213.15 351.15,211.35 354.81,209.33 358.47,207.16 362.13,204.92 365.8,202.7 369.46,200.56 373.12,198.58 376.78,196.85 380.44,195.38 384.1,194.11 387.76,192.98 391.43,191.95 395.09,190.97 398.75,189.98 402.41,188.92 406.07,187.76 409.74,186.45 413.4,185 417.06,183.5 420.72,181.98 424.38,180.53 428.04,179.19 431.71,178.03 435.37,177.11 439.03,176.44 442.69,175.97 446.35,175.66 450.01,175.48 453.67,175.38 457.34,175.34 461,175.3 464.66,175.23 468.52,175.16 472.67,175.16 476.93,175.2 481.14,175.26 485.11,175.35 488.69,175.43 491.69,175.5 493.95,175.54" fill="none" stroke="#1f9bd7" stroke-width="1.1" stroke-linejoin="round"/>
<path d="M291.09 231.64L287.26 229.45L287.26 233.83Z" fill="#1f9bd7"/>
<path d="M305.73 228.51L301.91 226.32L301.91 230.7Z" fill="#1f9bd7"/>
<path d="M320.38 223.49L316.55 221.31L316.55 225.68Z" fill="#1f9bd7"/>
<path d="M349.67 213.15L345.85 210.96L345.85 215.34Z" fill="#1f9bd7"/>
<path d="M378.97 195.91L375.14 193.72L375.14 198.1Z" fill="#1f9bd7"/>
<path d="M408.26 188.08L404.43 185.89L404.43 190.26Z" fill="#1f9bd7"/>
<path d="M437.55 176.48L433.73 174.29L433.73 178.67Z" fill="#1f9bd7"/>
<path d="M466.85 175.23L463.02 173.04L463.02 177.41Z" fill="#1f9bd7"/>
<path d="M496.14 175.54L492.31 173.35L492.31 177.73Z" fill="#1f9bd7"/>
<path d="M376.78 190.58V199.99M375.48 190.58H378.08M375.48 199.99H378.08" stroke="#f6a0a8" stroke-width="0.6" fill="none"/>
<path d="M406.07 189.02V192.15M404.77 189.02H407.37M404.77 192.15H407.37" stroke="#f6a0a8" stroke-width="0.6" fill="none"/>
<path d="M435.37 177.42V180.55M434.07 177.42H436.67M434.07 180.55H436.67" stroke="#f6a0a8" stroke-width="0.6" fill="none"/>
<path d="M464.66 171.78V176.79M463.36 171.78H465.96M463.36 176.79H465.96" stroke="#f6a0a8" stroke-width="0.6" fill="none"/>
<path d="M493.95 178.05V184.31M492.65 178.05H495.25M492.65 184.31H495.25" stroke="#f6a0a8" stroke-width="0.6" fill="none"/>
<path d="M288.9,231.96 290.03,231.68 291.53,231.32 293.32,230.89 295.31,230.41 297.41,229.89 299.54,229.33 301.62,228.77 303.55,228.19 305.28,227.64 306.87,227.08 308.4,226.52 309.95,225.92 311.63,225.28 313.5,224.57 315.66,223.77 318.19,222.87 321.15,221.88 324.49,220.84 328.11,219.72 331.92,218.54 335.86,217.26 339.82,215.89 343.72,214.42 347.49,212.84 351.15,211.04 354.81,209 358.47,206.8 362.13,204.53 365.8,202.28 369.46,200.14 373.12,198.2 376.78,196.54 380.44,195.2 384.1,194.11 387.76,193.21 391.43,192.42 395.09,191.68 398.75,190.91 402.41,190.05 406.07,189.02 409.74,187.79 413.4,186.41 417.06,184.95 420.72,183.45 424.38,181.99 428.04,180.61 431.71,179.38 435.37,178.36 439.03,177.5 442.69,176.73 446.35,176.06 450.01,175.5 453.67,175.06 457.34,174.76 461,174.6 464.66,174.6 468.52,174.84 472.67,175.35 476.93,176.06 481.14,176.87 485.11,177.71 488.69,178.51 491.69,179.17 493.95,179.61" fill="none" stroke="#ee3a4b" stroke-width="1.1" stroke-linejoin="round"/>
<circle cx="288.9" cy="231.96" r="1.75" fill="#ee3a4b"/>
<circle cx="303.55" cy="228.19" r="1.75" fill="#ee3a4b"/>
<circle cx="318.19" cy="222.87" r="1.75" fill="#ee3a4b"/>
<circle cx="347.49" cy="212.84" r="1.75" fill="#ee3a4b"/>
<circle cx="376.78" cy="195.28" r="1.75" fill="#ee3a4b"/>
<circle cx="406.07" cy="190.58" r="1.75" fill="#ee3a4b"/>
<circle cx="435.37" cy="178.99" r="1.75" fill="#ee3a4b"/>
<circle cx="464.66" cy="174.28" r="1.75" fill="#ee3a4b"/>
<circle cx="493.95" cy="181.18" r="1.75" fill="#ee3a4b"/>
<path d="M294 166.4H308" stroke="#20b25c" stroke-width="0.9"/>
<circle cx="301" cy="166.4" r="1.75" fill="#20b25c"/>
<text transform="translate(310 168.5) scale(1 1.1)" font-family='"Liberation Serif", serif' font-size="6.17" font-weight="bold" text-anchor="start" fill="#111" stroke="#111" stroke-width="0.2">D-1-C/N=0.535</text>
<path d="M294 174.35H308" stroke="#1f9bd7" stroke-width="0.9"/>
<path d="M303.19 174.35L299.36 172.16L299.36 176.54Z" fill="#1f9bd7"/>
<text transform="translate(310 176.45) scale(1 1.1)" font-family='"Liberation Serif", serif' font-size="6.17" font-weight="bold" text-anchor="start" fill="#111" stroke="#111" stroke-width="0.2">F-C/N=2.673</text>
<path d="M294 182.3H308" stroke="#ee3a4b" stroke-width="0.9"/>
<circle cx="301" cy="182.3" r="1.75" fill="#ee3a4b"/>
<text transform="translate(310 184.4) scale(1 1.1)" font-family='"Liberation Serif", serif' font-size="6.17" font-weight="bold" text-anchor="start" fill="#111" stroke="#111" stroke-width="0.2">G-C/N=5</text>
<path d="M294 190.25H308" stroke="#f5a31d" stroke-width="0.9"/>
<path d="M303.1 190.25L301.43 189.82L301 188.15L300.57 189.82L298.9 190.25L300.57 190.68L301 192.35L301.43 190.68Z" fill="#f5a31d"/>
<text transform="translate(310 192.35) scale(1 1.1)" font-family='"Liberation Serif", serif' font-size="6.17" font-weight="bold" text-anchor="start" fill="#111" stroke="#111" stroke-width="0.2">H-C/N=11</text>
<path d="M66.92 342.9V355.12M65.62 342.9H68.22M65.62 355.12H68.22" stroke="#f0a0a0" stroke-width="0.6" fill="none"/>
<path d="M94.45 345.71V357.93M93.15 345.71H95.75M93.15 357.93H95.75" stroke="#f0a0a0" stroke-width="0.6" fill="none"/>
<path d="M121.97 331.66V340.21M120.67 331.66H123.27M120.67 340.21H123.27" stroke="#f0a0a0" stroke-width="0.6" fill="none"/>
<path d="M163.26 316.01V328.23M161.96 316.01H164.56M161.96 328.23H164.56" stroke="#f0a0a0" stroke-width="0.6" fill="none"/>
<path d="M190.79 308.8V316.13M189.49 308.8H192.09M189.49 316.13H192.09" stroke="#f0a0a0" stroke-width="0.6" fill="none"/>
<path d="M39.4,350.6 40.46,350.57 41.87,350.53 43.55,350.47 45.42,350.42 47.4,350.36 49.4,350.31 51.35,350.26 53.16,350.23 54.88,350.22 56.6,350.21 58.32,350.21 60.04,350.21 61.76,350.22 63.48,350.22 65.2,350.23 66.92,350.23 68.65,350.24 70.37,350.26 72.09,350.29 73.81,350.31 75.53,350.32 77.25,350.32 78.97,350.29 80.69,350.23 82.41,350.17 84.13,350.13 85.85,350.08 87.57,350 89.29,349.88 91.01,349.69 92.73,349.41 94.45,349.01 96.17,348.49 97.89,347.84 99.61,347.1 101.33,346.3 103.05,345.45 104.77,344.59 106.49,343.73 108.21,342.9 109.93,342.1 111.65,341.29 113.37,340.48 115.09,339.65 116.81,338.81 118.53,337.96 120.25,337.08 121.97,336.18 123.7,335.21 125.42,334.18 127.14,333.1 128.86,332.01 130.58,330.95 132.3,329.95 134.02,329.03 135.74,328.23 137.46,327.56 139.18,327 140.9,326.51 142.62,326.08 144.34,325.69 146.06,325.32 147.78,324.95 149.5,324.57 151.22,324.18 152.94,323.81 154.66,323.46 156.38,323.12 158.1,322.78 159.82,322.45 161.54,322.11 163.26,321.76 164.98,321.36 166.7,320.93 168.42,320.47 170.14,320.02 171.86,319.61 173.58,319.25 175.3,318.98 177.03,318.82 178.75,318.71 180.47,318.6 182.19,318.52 183.91,318.53 185.63,318.67 187.35,318.98 189.07,319.5 190.79,320.29 192.51,321.37 194.23,322.71 195.95,324.27 197.67,326 199.39,327.85 201.11,329.79 202.83,331.77 204.55,333.73 206.27,335.77 207.99,337.95 209.71,340.23 211.43,342.56 213.15,344.89 214.87,347.18 216.59,349.39 218.31,351.46 220.03,353.43 221.75,355.38 223.47,357.29 225.19,359.13 226.91,360.89 228.63,362.56 230.35,364.1 232.08,365.51 233.89,366.8 235.84,367.99 237.84,369.08 239.82,370.06 241.68,370.93 243.36,371.68 244.78,372.32 245.84,372.84" fill="none" stroke="#e8262c" stroke-width="1.1" stroke-linejoin="round"/>
<rect x="37.82" y="350.49" width="3.15" height="3.15" fill="#e8262c"/>
<rect x="65.35" y="347.44" width="3.15" height="3.15" fill="#e8262c"/>
<rect x="92.88" y="350.25" width="3.15" height="3.15" fill="#e8262c"/>
<rect x="120.4" y="334.36" width="3.15" height="3.15" fill="#e8262c"/>
<rect x="161.69" y="320.55" width="3.15" height="3.15" fill="#e8262c"/>
<rect x="189.21" y="310.89" width="3.15" height="3.15" fill="#e8262c"/>
<rect x="216.74" y="359.54" width="3.15" height="3.15" fill="#e8262c"/>
<rect x="244.26" y="372.49" width="3.15" height="3.15" fill="#e8262c"/>
<path d="M94.45 306.84V319.07M93.15 306.84H95.75M93.15 319.07H95.75" stroke="#9fb4dc" stroke-width="0.6" fill="none"/>
<path d="M121.97 322.24V329.58M120.67 322.24H123.27M120.67 329.58H123.27" stroke="#9fb4dc" stroke-width="0.6" fill="none"/>
<path d="M163.26 292.3V328.97M161.96 292.3H164.56M161.96 328.97H164.56" stroke="#9fb4dc" stroke-width="0.6" fill="none"/>
<path d="M190.79 317.23V380.06M189.49 317.23H192.09M189.49 380.06H192.09" stroke="#9fb4dc" stroke-width="0.6" fill="none"/>
<path d="M218.31 377.73V380.18M217.01 377.73H219.61M217.01 380.18H219.61" stroke="#9fb4dc" stroke-width="0.6" fill="none"/>
<path d="M245.84 381.4V383.84M244.54 381.4H247.14M244.54 383.84H247.14" stroke="#9fb4dc" stroke-width="0.6" fill="none"/>
<path d="M39.4,356.34 40.46,355.55 41.87,354.49 43.55,353.24 45.42,351.84 47.4,350.35 49.4,348.84 51.35,347.35 53.16,345.96 54.88,344.62 56.6,343.28 58.32,341.93 60.04,340.57 61.76,339.2 63.48,337.81 65.2,336.39 66.92,334.96 68.65,333.46 70.37,331.89 72.09,330.27 73.81,328.65 75.53,327.06 77.25,325.52 78.97,324.06 80.69,322.73 82.45,321.49 84.26,320.3 86.09,319.17 87.91,318.11 89.69,317.13 91.4,316.25 92.99,315.46 94.45,314.79 95.74,314.24 96.87,313.81 97.89,313.49 98.84,313.26 99.75,313.11 100.68,313.01 101.65,312.97 102.71,312.96 103.85,313.01 105.02,313.14 106.22,313.35 107.44,313.6 108.67,313.9 109.9,314.2 111.13,314.51 112.34,314.79 113.52,315.08 114.65,315.4 115.77,315.74 116.9,316.09 118.06,316.42 119.28,316.74 120.57,317.01 121.97,317.23 123.5,317.39 125.13,317.5 126.83,317.57 128.6,317.62 130.4,317.65 132.2,317.69 133.99,317.75 135.74,317.84 137.46,317.96 139.18,318.09 140.9,318.23 142.62,318.38 144.34,318.54 146.06,318.7 147.78,318.88 149.5,319.07 151.22,319.2 152.94,319.27 154.66,319.31 156.38,319.37 158.1,319.51 159.82,319.78 161.54,320.23 163.26,320.9 164.98,321.8 166.7,322.88 168.42,324.11 170.14,325.48 171.86,326.97 173.58,328.55 175.3,330.2 177.03,331.9 178.75,333.7 180.47,335.62 182.19,337.66 183.91,339.77 185.63,341.93 187.35,344.1 189.07,346.27 190.79,348.4 192.51,350.56 194.23,352.79 195.95,355.07 197.67,357.34 199.39,359.56 201.11,361.69 202.83,363.69 204.55,365.51 206.27,367.17 207.99,368.72 209.71,370.15 211.43,371.48 213.15,372.72 214.87,373.86 216.59,374.92 218.31,375.9 220.03,376.78 221.75,377.55 223.47,378.22 225.19,378.8 226.91,379.31 228.63,379.77 230.35,380.17 232.08,380.54 233.89,380.86 235.84,381.09 237.84,381.26 239.82,381.38 241.68,381.47 243.36,381.53 244.78,381.58 245.84,381.64" fill="none" stroke="#2b57a6" stroke-width="1.1" stroke-linejoin="round"/>
<circle cx="39.4" cy="355.73" r="1.75" fill="#2b57a6"/>
<circle cx="66.92" cy="336.18" r="1.75" fill="#2b57a6"/>
<circle cx="94.45" cy="312.96" r="1.75" fill="#2b57a6"/>
<circle cx="121.97" cy="325.91" r="1.75" fill="#2b57a6"/>
<circle cx="163.26" cy="310.63" r="1.75" fill="#2b57a6"/>
<circle cx="190.79" cy="348.64" r="1.75" fill="#2b57a6"/>
<circle cx="218.31" cy="378.96" r="1.75" fill="#2b57a6"/>
<circle cx="245.84" cy="382.62" r="1.75" fill="#2b57a6"/>
<path d="M66.92 327.87V342.53M65.62 327.87H68.22M65.62 342.53H68.22" stroke="#f8dc88" stroke-width="0.6" fill="none"/>
<path d="M94.45 315.4V339.84M93.15 315.4H95.75M93.15 339.84H95.75" stroke="#f8dc88" stroke-width="0.6" fill="none"/>
<path d="M121.97 294.01V340.46M120.67 294.01H123.27M120.67 340.46H123.27" stroke="#f8dc88" stroke-width="0.6" fill="none"/>
<path d="M39.4,355.12 40.46,354.42 41.87,353.48 43.55,352.36 45.42,351.12 47.4,349.8 49.4,348.47 51.35,347.17 53.16,345.96 54.88,344.77 56.6,343.55 58.32,342.31 60.04,341.07 61.76,339.87 63.48,338.72 65.2,337.64 66.92,336.67 68.65,335.8 70.37,335.01 72.09,334.29 73.81,333.63 75.53,333.01 77.25,332.42 78.97,331.85 80.69,331.29 82.41,330.76 84.13,330.28 85.85,329.84 87.57,329.43 89.29,329.01 91.01,328.58 92.73,328.13 94.45,327.62 96.17,327.07 97.89,326.49 99.61,325.88 101.33,325.25 103.05,324.62 104.77,323.98 106.49,323.35 108.21,322.73 109.93,322.1 111.65,321.45 113.37,320.78 115.09,320.11 116.81,319.47 118.53,318.87 120.25,318.32 121.97,317.84 123.7,317.43 125.42,317.06 127.14,316.73 128.86,316.45 130.58,316.21 132.3,316.01 134.02,315.87 135.74,315.77 137.46,315.71 139.18,315.69 140.9,315.72 142.62,315.8 144.34,315.92 146.06,316.1 147.78,316.33 149.5,316.62 151.22,316.92 152.94,317.19 154.66,317.49 156.38,317.86 158.1,318.34 159.82,318.98 161.54,319.82 163.26,320.9 164.98,322.26 166.7,323.87 168.42,325.69 170.14,327.66 171.86,329.74 173.58,331.89 175.3,334.05 177.03,336.18 178.75,338.35 180.47,340.65 182.19,343.02 183.91,345.42 185.63,347.82 187.35,350.16 189.07,352.4 190.79,354.51 192.51,356.51 194.23,358.47 195.95,360.36 197.67,362.19 199.39,363.93 201.11,365.58 202.83,367.13 204.55,368.57 206.27,369.87 207.99,371.05 209.71,372.13 211.43,373.11 213.15,374.02 214.87,374.88 216.59,375.71 218.31,376.51 220.03,377.28 221.75,377.99 223.47,378.65 225.19,379.26 226.91,379.84 228.63,380.38 230.35,380.9 232.08,381.4 233.89,381.89 235.84,382.36 237.84,382.81 239.82,383.23 241.68,383.61 243.36,383.95 244.78,384.23 245.84,384.46" fill="none" stroke="#f6c21b" stroke-width="1.1" stroke-linejoin="round"/>
<path d="M39.4 353.55L41.59 357.37L37.21 357.37Z" fill="#f6c21b"/>
<path d="M66.92 333.01L69.11 336.84L64.74 336.84Z" fill="#f6c21b"/>
<path d="M94.45 325.43L96.64 329.26L92.26 329.26Z" fill="#f6c21b"/>
<path d="M121.97 315.05L124.16 318.87L119.79 318.87Z" fill="#f6c21b"/>
<path d="M163.26 309.18L165.45 313.01L161.08 313.01Z" fill="#f6c21b"/>
<path d="M190.79 355.99L192.98 359.82L188.6 359.82Z" fill="#f6c21b"/>
<path d="M218.31 376.77L220.5 380.6L216.13 380.6Z" fill="#f6c21b"/>
<path d="M245.84 383.12L248.03 386.95L243.65 386.95Z" fill="#f6c21b"/>
<path d="M66.92 329.46V346.57M65.62 329.46H68.22M65.62 346.57H68.22" stroke="#8fd8b4" stroke-width="0.6" fill="none"/>
<path d="M94.45 318.21V325.54M93.15 318.21H95.75M93.15 325.54H95.75" stroke="#8fd8b4" stroke-width="0.6" fill="none"/>
<path d="M121.97 327.13V334.47M120.67 327.13H123.27M120.67 334.47H123.27" stroke="#8fd8b4" stroke-width="0.6" fill="none"/>
<path d="M163.26 301.96V309.29M161.96 301.96H164.56M161.96 309.29H164.56" stroke="#8fd8b4" stroke-width="0.6" fill="none"/>
<path d="M190.79 355.73V363.07M189.49 355.73H192.09M189.49 363.07H192.09" stroke="#8fd8b4" stroke-width="0.6" fill="none"/>
<path d="M218.31 378.22V380.67M217.01 378.22H219.61M217.01 380.67H219.61" stroke="#8fd8b4" stroke-width="0.6" fill="none"/>
<path d="M245.84 382.62V385.07M244.54 382.62H247.14M244.54 385.07H247.14" stroke="#8fd8b4" stroke-width="0.6" fill="none"/>
<path d="M39.4,356.34 40.46,355.63 41.87,354.69 43.55,353.56 45.42,352.31 47.4,350.99 49.4,349.66 51.35,348.37 53.16,347.18 54.88,346.06 56.6,344.94 58.32,343.83 60.04,342.72 61.76,341.63 63.48,340.53 65.2,339.45 66.92,338.38 68.65,337.29 70.37,336.17 72.09,335.04 73.81,333.93 75.53,332.86 77.25,331.84 78.97,330.9 80.69,330.07 82.41,329.33 84.13,328.67 85.85,328.09 87.57,327.56 89.29,327.09 91.01,326.66 92.73,326.27 94.45,325.91 96.17,325.58 97.89,325.29 99.61,325.04 101.33,324.83 103.05,324.66 104.77,324.54 106.49,324.47 108.21,324.44 109.93,324.54 111.65,324.77 113.37,325.09 115.09,325.44 116.81,325.75 118.53,325.97 120.25,326.05 121.97,325.91 123.7,325.52 125.42,324.92 127.14,324.16 128.86,323.31 130.58,322.43 132.3,321.59 134.02,320.86 135.74,320.29 137.46,319.85 139.18,319.46 140.9,319.14 142.62,318.87 144.34,318.66 146.06,318.52 147.78,318.45 149.5,318.46 151.22,318.46 152.94,318.44 154.66,318.44 156.38,318.53 158.1,318.77 159.82,319.2 161.54,319.89 163.26,320.9 164.98,322.28 166.7,324.01 168.42,326 170.14,328.2 171.86,330.51 173.58,332.86 175.3,335.18 177.03,337.4 178.75,339.58 180.47,341.83 182.19,344.12 183.91,346.41 185.63,348.69 187.35,350.92 189.07,353.07 190.79,355.12 192.51,357.1 194.23,359.05 195.95,360.95 197.67,362.78 199.39,364.54 201.11,366.21 202.83,367.76 204.55,369.18 206.27,370.46 207.99,371.61 209.71,372.65 211.43,373.59 213.15,374.46 214.87,375.26 216.59,376.02 218.31,376.76 220.03,377.44 221.75,378.04 223.47,378.58 225.19,379.07 226.91,379.52 228.63,379.95 230.35,380.37 232.08,380.79 233.89,381.22 235.84,381.64 237.84,382.06 239.82,382.45 241.68,382.81 243.36,383.12 244.78,383.39 245.84,383.6" fill="none" stroke="#1fae6b" stroke-width="1.1" stroke-linejoin="round"/>
<path d="M39.4 359.14L41.59 355.31L37.21 355.31Z" fill="#1fae6b"/>
<path d="M66.92 340.2L69.11 336.37L64.74 336.37Z" fill="#1fae6b"/>
<path d="M94.45 324.07L96.64 320.24L92.26 320.24Z" fill="#1fae6b"/>
<path d="M121.97 332.99L124.16 329.16L119.79 329.16Z" fill="#1fae6b"/>
<path d="M163.26 307.81L165.45 303.98L161.08 303.98Z" fill="#1fae6b"/>
<path d="M190.79 361.59L192.98 357.76L188.6 357.76Z" fill="#1fae6b"/>
<path d="M218.31 381.63L220.5 377.8L216.13 377.8Z" fill="#1fae6b"/>
<path d="M245.84 386.03L248.03 382.2L243.65 382.2Z" fill="#1fae6b"/>
<path d="M94.45 299.76V309.53M93.15 299.76H95.75M93.15 309.53H95.75" stroke="#b0b0d8" stroke-width="0.6" fill="none"/>
<path d="M121.97 321.39V328.72M120.67 321.39H123.27M120.67 328.72H123.27" stroke="#b0b0d8" stroke-width="0.6" fill="none"/>
<path d="M163.26 305.13V312.47M161.96 305.13H164.56M161.96 312.47H164.56" stroke="#b0b0d8" stroke-width="0.6" fill="none"/>
<path d="M190.79 356.96V364.29M189.49 356.96H192.09M189.49 364.29H192.09" stroke="#b0b0d8" stroke-width="0.6" fill="none"/>
<path d="M218.31 378.22V380.67M217.01 378.22H219.61M217.01 380.67H219.61" stroke="#b0b0d8" stroke-width="0.6" fill="none"/>
<path d="M245.84 380.79V383.23M244.54 380.79H247.14M244.54 383.23H247.14" stroke="#b0b0d8" stroke-width="0.6" fill="none"/>
<path d="M39.4,357.57 40.46,356.72 41.87,355.58 43.55,354.24 45.42,352.74 47.4,351.16 49.4,349.56 51.35,348.01 53.16,346.57 54.88,345.21 56.6,343.86 58.32,342.51 60.04,341.17 61.76,339.82 63.48,338.49 65.2,337.15 66.92,335.81 68.65,334.45 70.37,333.04 72.09,331.62 73.81,330.2 75.53,328.83 77.25,327.52 78.97,326.29 80.69,325.18 82.45,324.16 84.26,323.21 86.09,322.32 87.91,321.5 89.69,320.77 91.4,320.11 92.99,319.54 94.45,319.07 95.74,318.7 96.87,318.44 97.89,318.28 98.84,318.2 99.75,318.18 100.68,318.2 101.65,318.26 102.71,318.33 103.85,318.45 105.02,318.64 106.22,318.89 107.44,319.17 108.67,319.47 109.9,319.77 111.13,320.05 112.34,320.29 113.52,320.52 114.65,320.79 115.77,321.06 116.9,321.31 118.06,321.53 119.28,321.69 120.57,321.77 121.97,321.76 123.5,321.61 125.13,321.34 126.83,320.98 128.6,320.56 130.4,320.13 132.2,319.72 133.99,319.35 135.74,319.07 137.46,318.84 139.18,318.61 140.9,318.41 142.62,318.23 144.34,318.1 146.06,318.03 147.78,318.02 149.5,318.09 151.22,318.17 152.94,318.2 154.66,318.26 156.38,318.4 158.1,318.68 159.82,319.15 161.54,319.87 163.26,320.9 164.98,322.3 166.7,324.05 168.42,326.06 170.14,328.26 171.86,330.57 173.58,332.91 175.3,335.21 177.03,337.4 178.75,339.53 180.47,341.71 182.19,343.91 183.91,346.11 185.63,348.29 187.35,350.43 189.07,352.51 190.79,354.51 192.51,356.46 194.23,358.38 195.95,360.27 197.67,362.11 199.39,363.88 201.11,365.55 202.83,367.12 204.55,368.57 206.27,369.88 207.99,371.07 209.71,372.15 211.43,373.15 213.15,374.07 214.87,374.93 216.59,375.74 218.31,376.51 220.03,377.24 221.75,377.91 223.47,378.52 225.19,379.07 226.91,379.57 228.63,380.02 230.35,380.43 232.08,380.79 233.89,381.1 235.84,381.34 237.84,381.52 239.82,381.67 241.68,381.78 243.36,381.86 244.78,381.94 245.84,382.01" fill="none" stroke="#5b5ba6" stroke-width="1.1" stroke-linejoin="round"/>
<path d="M39.4 356.64L41.67 358.91L39.4 361.19L37.12 358.91Z" fill="#5b5ba6"/>
<path d="M66.92 341.6L69.2 343.88L66.92 346.15L64.65 343.88Z" fill="#5b5ba6"/>
<path d="M94.45 302.37L96.73 304.64L94.45 306.92L92.17 304.64Z" fill="#5b5ba6"/>
<path d="M121.97 322.78L124.25 325.06L121.97 327.33L119.7 325.06Z" fill="#5b5ba6"/>
<path d="M163.26 306.52L165.54 308.8L163.26 311.07L160.99 308.8Z" fill="#5b5ba6"/>
<path d="M190.79 358.35L193.06 360.62L190.79 362.9L188.51 360.62Z" fill="#5b5ba6"/>
<path d="M218.31 377.17L220.59 379.44L218.31 381.72L216.04 379.44Z" fill="#5b5ba6"/>
<path d="M245.84 379.74L248.11 382.01L245.84 384.29L243.56 382.01Z" fill="#5b5ba6"/>
<path d="M205.9 290.1H219.2" stroke="#e8262c" stroke-width="0.9"/>
<rect x="210.98" y="288.53" width="3.15" height="3.15" fill="#e8262c"/>
<text transform="translate(221.4 292.2) scale(1 1.1)" font-family='"Liberation Serif", serif' font-size="6.05" font-weight="bold" text-anchor="start" fill="#111" stroke="#111" stroke-width="0.2">A-C/N=0.134</text>
<path d="M205.9 297.9H219.2" stroke="#2b57a6" stroke-width="0.9"/>
<circle cx="212.55" cy="297.9" r="1.75" fill="#2b57a6"/>
<text transform="translate(221.4 300) scale(1 1.1)" font-family='"Liberation Serif", serif' font-size="6.05" font-weight="bold" text-anchor="start" fill="#111" stroke="#111" stroke-width="0.2">B-C/N=0.267</text>
<path d="M205.9 305.7H219.2" stroke="#f6c21b" stroke-width="0.9"/>
<path d="M212.55 303.51L214.74 307.34L210.36 307.34Z" fill="#f6c21b"/>
<text transform="translate(221.4 307.8) scale(1 1.1)" font-family='"Liberation Serif", serif' font-size="6.05" font-weight="bold" text-anchor="start" fill="#111" stroke="#111" stroke-width="0.2">C-C/N=0.401</text>
<path d="M205.9 313.5H219.2" stroke="#1fae6b" stroke-width="0.9"/>
<path d="M212.55 315.69L214.74 311.86L210.36 311.86Z" fill="#1fae6b"/>
<text transform="translate(221.4 315.6) scale(1 1.1)" font-family='"Liberation Serif", serif' font-size="6.05" font-weight="bold" text-anchor="start" fill="#111" stroke="#111" stroke-width="0.2">D-C/N=0.535</text>
<path d="M205.9 321.3H219.2" stroke="#5b5ba6" stroke-width="0.9"/>
<path d="M212.55 319.03L214.83 321.3L212.55 323.57L210.28 321.3Z" fill="#5b5ba6"/>
<text transform="translate(221.4 323.4) scale(1 1.1)" font-family='"Liberation Serif", serif' font-size="6.05" font-weight="bold" text-anchor="start" fill="#111" stroke="#111" stroke-width="0.2">E-C/N=0.692</text>
<path d="M304.05 376.79V382.33M302.75 376.79H305.35M302.75 382.33H305.35" stroke="#f9d290" stroke-width="0.6" fill="none"/>
<path d="M348.01 366.99V374.39M346.71 366.99H349.31M346.71 374.39H349.31" stroke="#f9d290" stroke-width="0.6" fill="none"/>
<path d="M377.32 365.24V372.63M376.02 365.24H378.62M376.02 372.63H378.62" stroke="#f9d290" stroke-width="0.6" fill="none"/>
<path d="M406.63 355.72V374.2M405.33 355.72H407.93M405.33 374.2H407.93" stroke="#f9d290" stroke-width="0.6" fill="none"/>
<path d="M435.93 380.86V388.25M434.63 380.86H437.23M434.63 388.25H437.23" stroke="#f9d290" stroke-width="0.6" fill="none"/>
<path d="M289.4,375.68 290.53,375.99 292.03,376.44 293.82,376.99 295.81,377.57 297.91,378.13 300.05,378.63 302.12,379 304.05,379.19 305.88,379.21 307.72,379.09 309.55,378.87 311.38,378.57 313.21,378.21 315.04,377.83 316.88,377.44 318.71,377.07 320.54,376.69 322.37,376.27 324.2,375.82 326.03,375.36 327.87,374.89 329.7,374.42 331.53,373.97 333.36,373.55 335.19,373.16 337.02,372.77 338.86,372.38 340.69,372.01 342.52,371.65 344.35,371.31 346.18,370.99 348.01,370.69 349.84,370.41 351.68,370.16 353.51,369.93 355.34,369.71 357.17,369.5 359,369.31 360.83,369.12 362.67,368.93 364.5,368.75 366.33,368.59 368.16,368.43 369.99,368.28 371.83,368.13 373.66,367.99 375.49,367.86 377.32,367.73 379.2,367.6 381.16,367.47 383.14,367.35 385.1,367.23 387.01,367.12 388.83,367.03 390.49,366.95 391.97,366.9 393.24,366.87 394.32,366.84 395.26,366.83 396.09,366.84 396.87,366.87 397.64,366.92 398.43,366.99 399.3,367.09 400.17,367.17 400.96,367.24 401.73,367.31 402.51,367.41 403.34,367.57 404.28,367.81 405.36,368.16 406.63,368.66 408.11,369.33 409.77,370.17 411.59,371.13 413.5,372.17 415.46,373.25 417.44,374.32 419.4,375.33 421.28,376.23 423.11,377.08 424.94,377.93 426.77,378.76 428.61,379.56 430.44,380.31 432.27,381 434.1,381.62 435.93,382.15 437.76,382.57 439.6,382.9 441.43,383.14 443.26,383.33 445.09,383.48 446.92,383.61 448.75,383.75 450.59,383.91 452.42,384.07 454.25,384.2 456.08,384.32 457.91,384.44 459.75,384.55 461.58,384.68 463.41,384.83 465.24,385.01 467.07,385.23 468.9,385.47 470.74,385.73 472.57,386.01 474.4,386.29 476.23,386.58 478.06,386.86 479.89,387.14 481.83,387.43 483.9,387.74 486.03,388.06 488.14,388.38 490.12,388.68 491.91,388.96 493.42,389.19 494.55,389.36" fill="none" stroke="#f5a31d" stroke-width="1.1" stroke-linejoin="round"/>
<path d="M291.5 375.68L289.83 375.25L289.4 373.58L288.97 375.25L287.3 375.68L288.97 376.11L289.4 377.78L289.83 376.11Z" fill="#f5a31d"/>
<path d="M306.15 379.56L304.49 379.13L304.05 377.46L303.62 379.13L301.95 379.56L303.62 379.99L304.05 381.66L304.49 379.99Z" fill="#f5a31d"/>
<path d="M320.81 376.7L319.14 376.26L318.71 374.6L318.27 376.26L316.61 376.7L318.27 377.13L318.71 378.8L319.14 377.13Z" fill="#f5a31d"/>
<path d="M350.11 370.69L348.45 370.26L348.01 368.59L347.58 370.26L345.91 370.69L347.58 371.12L348.01 372.79L348.45 371.12Z" fill="#f5a31d"/>
<path d="M379.42 368.93L377.75 368.5L377.32 366.83L376.89 368.5L375.22 368.93L376.89 369.37L377.32 371.03L377.75 369.37Z" fill="#f5a31d"/>
<path d="M408.73 364.96L407.06 364.53L406.63 362.86L406.19 364.53L404.53 364.96L406.19 365.39L406.63 367.06L407.06 365.39Z" fill="#f5a31d"/>
<path d="M438.03 384.55L436.37 384.12L435.93 382.45L435.5 384.12L433.83 384.55L435.5 384.99L435.93 386.65L436.37 384.99Z" fill="#f5a31d"/>
<path d="M467.34 384.37L465.67 383.93L465.24 382.27L464.81 383.93L463.14 384.37L464.81 384.8L465.24 386.47L465.67 384.8Z" fill="#f5a31d"/>
<path d="M496.65 389.36L494.98 388.92L494.55 387.26L494.11 388.92L492.45 389.36L494.11 389.79L494.55 391.46L494.98 389.79Z" fill="#f5a31d"/>
<path d="M318.71 365.7V374.94M317.41 365.7H320.01M317.41 374.94H320.01" stroke="#f6a0a8" stroke-width="0.6" fill="none"/>
<path d="M377.32 340.65V381.32M376.02 340.65H378.62M376.02 381.32H378.62" stroke="#f6a0a8" stroke-width="0.6" fill="none"/>
<path d="M406.63 341.21V363.39M405.33 341.21H407.93M405.33 363.39H407.93" stroke="#f6a0a8" stroke-width="0.6" fill="none"/>
<path d="M435.93 360.99V385.01M434.63 360.99H437.23M434.63 385.01H437.23" stroke="#f6a0a8" stroke-width="0.6" fill="none"/>
<path d="M465.24 364.31V384.64M463.94 364.31H466.54M463.94 384.64H466.54" stroke="#f6a0a8" stroke-width="0.6" fill="none"/>
<path d="M494.55 373.09V386.03M493.25 373.09H495.85M493.25 386.03H495.85" stroke="#f6a0a8" stroke-width="0.6" fill="none"/>
<path d="M289.4,381.96 290.53,381.69 292.03,381.35 293.82,380.94 295.81,380.47 297.91,379.97 300.05,379.42 302.12,378.85 304.05,378.27 305.88,377.64 307.72,376.94 309.55,376.19 311.38,375.43 313.21,374.65 315.04,373.9 316.88,373.19 318.71,372.54 320.54,371.95 322.37,371.39 324.2,370.86 326.03,370.35 327.87,369.87 329.7,369.4 331.53,368.93 333.36,368.47 335.19,368.02 337.02,367.57 338.86,367.14 340.69,366.72 342.52,366.31 344.35,365.91 346.18,365.52 348.01,365.14 349.84,364.78 351.68,364.42 353.51,364.08 355.34,363.74 357.17,363.41 359,363.09 360.83,362.78 362.67,362.46 364.5,362.16 366.33,361.88 368.16,361.61 369.99,361.34 371.83,361.07 373.66,360.79 375.49,360.48 377.32,360.15 379.2,359.78 381.16,359.36 383.14,358.91 385.1,358.45 387.01,358 388.83,357.59 390.49,357.22 391.97,356.92 393.24,356.68 394.32,356.48 395.26,356.31 396.09,356.19 396.87,356.09 397.64,356.03 398.43,356 399.3,356 400.17,356 400.96,356 401.73,356.03 402.51,356.09 403.34,356.21 404.28,356.4 405.36,356.7 406.63,357.1 408.11,357.66 409.77,358.34 411.59,359.13 413.5,360 415.46,360.91 417.44,361.82 419.4,362.72 421.28,363.57 423.11,364.41 424.94,365.28 426.77,366.17 428.61,367.05 430.44,367.91 432.27,368.72 434.1,369.47 435.93,370.14 437.76,370.72 439.6,371.24 441.43,371.71 443.26,372.13 445.09,372.51 446.92,372.85 448.75,373.17 450.59,373.46 452.42,373.71 454.25,373.9 456.08,374.04 457.91,374.16 459.75,374.27 461.58,374.39 463.41,374.55 465.24,374.76 467.07,375.02 468.9,375.32 470.74,375.65 472.57,375.99 474.4,376.34 476.23,376.69 478.06,377.03 479.89,377.34 481.83,377.65 483.9,377.98 486.03,378.3 488.14,378.61 490.12,378.91 491.91,379.17 493.42,379.39 494.55,379.56" fill="none" stroke="#ee3a4b" stroke-width="1.1" stroke-linejoin="round"/>
<circle cx="289.4" cy="381.96" r="1.75" fill="#ee3a4b"/>
<circle cx="304.05" cy="377.99" r="1.75" fill="#ee3a4b"/>
<circle cx="318.71" cy="370.32" r="1.75" fill="#ee3a4b"/>
<circle cx="377.32" cy="360.99" r="1.75" fill="#ee3a4b"/>
<circle cx="406.63" cy="352.3" r="1.75" fill="#ee3a4b"/>
<circle cx="435.93" cy="373" r="1.75" fill="#ee3a4b"/>
<circle cx="465.24" cy="374.48" r="1.75" fill="#ee3a4b"/>
<circle cx="494.55" cy="379.56" r="1.75" fill="#ee3a4b"/>
<path d="M304.05 370.87V376.42M302.75 370.87H305.35M302.75 376.42H305.35" stroke="#90cdeb" stroke-width="0.6" fill="none"/>
<path d="M318.71 358.77V368.01M317.41 358.77H320.01M317.41 368.01H320.01" stroke="#90cdeb" stroke-width="0.6" fill="none"/>
<path d="M348.01 347.77V357.01M346.71 347.77H349.31M346.71 357.01H349.31" stroke="#90cdeb" stroke-width="0.6" fill="none"/>
<path d="M377.32 316.44V353.41M376.02 316.44H378.62M376.02 353.41H378.62" stroke="#90cdeb" stroke-width="0.6" fill="none"/>
<path d="M406.63 340.75V349.99M405.33 340.75H407.93M405.33 349.99H407.93" stroke="#90cdeb" stroke-width="0.6" fill="none"/>
<path d="M435.93 364.04V373.28M434.63 364.04H437.23M434.63 373.28H437.23" stroke="#90cdeb" stroke-width="0.6" fill="none"/>
<path d="M465.24 377.16V382.7M463.94 377.16H466.54M463.94 382.7H466.54" stroke="#90cdeb" stroke-width="0.6" fill="none"/>
<path d="M494.55 378.73V382.43M493.25 378.73H495.85M493.25 382.43H495.85" stroke="#90cdeb" stroke-width="0.6" fill="none"/>
<path d="M289.4,370.32 290.53,370.52 292.03,370.85 293.82,371.25 295.81,371.66 297.91,372 300.05,372.22 302.12,372.23 304.05,371.98 305.88,371.42 307.72,370.58 309.55,369.55 311.38,368.38 313.21,367.16 315.04,365.94 316.88,364.82 318.71,363.85 320.54,363.02 322.37,362.25 324.2,361.53 326.03,360.84 327.87,360.17 329.7,359.5 331.53,358.83 333.36,358.12 335.19,357.41 337.02,356.72 338.86,356.03 340.69,355.33 342.52,354.62 344.35,353.89 346.18,353.12 348.01,352.3 349.84,351.41 351.68,350.46 353.51,349.46 355.34,348.44 357.17,347.42 359,346.43 360.83,345.49 362.67,344.63 364.55,343.81 366.5,343 368.48,342.21 370.45,341.46 372.36,340.77 374.17,340.15 375.84,339.61 377.32,339.18 378.59,338.85 379.67,338.63 380.6,338.5 381.44,338.44 382.22,338.43 382.99,338.45 383.78,338.49 384.65,338.53 385.56,338.57 386.48,338.64 387.39,338.73 388.31,338.86 389.23,339.01 390.14,339.19 391.06,339.4 391.97,339.64 392.89,339.92 393.8,340.24 394.72,340.6 395.64,340.99 396.55,341.39 397.47,341.8 398.38,342.2 399.3,342.6 400.17,342.93 400.96,343.19 401.73,343.42 402.51,343.67 403.34,343.98 404.28,344.4 405.36,344.97 406.63,345.74 408.11,346.72 409.77,347.89 411.59,349.21 413.5,350.64 415.46,352.13 417.44,353.66 419.4,355.17 421.28,356.64 423.11,358.12 424.94,359.67 426.77,361.26 428.61,362.86 430.44,364.43 432.27,365.94 434.1,367.36 435.93,368.66 437.76,369.85 439.6,370.98 441.43,372.04 443.26,373.03 445.09,373.95 446.92,374.79 448.75,375.55 450.59,376.23 452.42,376.81 454.25,377.27 456.08,377.64 457.91,377.94 459.75,378.2 461.58,378.43 463.41,378.66 465.24,378.91 467.07,379.18 468.9,379.42 470.74,379.64 472.57,379.84 474.4,380.04 476.23,380.23 478.06,380.4 479.89,380.58 481.83,380.75 483.9,380.92 486.03,381.08 488.14,381.24 490.12,381.38 491.91,381.5 493.42,381.61 494.55,381.69" fill="none" stroke="#1f9bd7" stroke-width="1.1" stroke-linejoin="round"/>
<path d="M291.59 370.5L287.76 368.32L287.76 372.69Z" fill="#1f9bd7"/>
<path d="M306.24 373.65L302.41 371.46L302.41 375.83Z" fill="#1f9bd7"/>
<path d="M320.89 363.39L317.07 361.2L317.07 365.58Z" fill="#1f9bd7"/>
<path d="M350.2 352.39L346.37 350.2L346.37 354.58Z" fill="#1f9bd7"/>
<path d="M379.51 334.92L375.68 332.74L375.68 337.11Z" fill="#1f9bd7"/>
<path d="M408.81 345.37L404.99 343.18L404.99 347.56Z" fill="#1f9bd7"/>
<path d="M438.12 368.66L434.29 366.47L434.29 370.84Z" fill="#1f9bd7"/>
<path d="M467.43 379.93L463.6 377.74L463.6 382.12Z" fill="#1f9bd7"/>
<path d="M496.73 380.58L492.91 378.39L492.91 382.77Z" fill="#1f9bd7"/>
<path d="M304.05 363.39V368.93M302.75 363.39H305.35M302.75 368.93H305.35" stroke="#90dcae" stroke-width="0.6" fill="none"/>
<path d="M318.71 343.7V356.64M317.41 343.7H320.01M317.41 356.64H320.01" stroke="#90dcae" stroke-width="0.6" fill="none"/>
<path d="M377.32 315.89V330.67M376.02 315.89H378.62M376.02 330.67H378.62" stroke="#90dcae" stroke-width="0.6" fill="none"/>
<path d="M406.63 302.67V315.61M405.33 302.67H407.93M405.33 315.61H407.93" stroke="#90dcae" stroke-width="0.6" fill="none"/>
<path d="M435.93 354.79V365.88M434.63 354.79H437.23M434.63 365.88H437.23" stroke="#90dcae" stroke-width="0.6" fill="none"/>
<path d="M465.24 375.68V381.23M463.94 375.68H466.54M463.94 381.23H466.54" stroke="#90dcae" stroke-width="0.6" fill="none"/>
<path d="M494.55 380.3V384M493.25 380.3H495.85M493.25 384H495.85" stroke="#90dcae" stroke-width="0.6" fill="none"/>
<path d="M289.4,357.01 289.97,357.39 290.72,357.91 291.61,358.54 292.61,359.22 293.66,359.91 294.72,360.56 295.76,361.12 296.73,361.54 297.64,361.86 298.56,362.12 299.47,362.33 300.39,362.49 301.31,362.58 302.22,362.61 303.14,362.57 304.05,362.46 304.97,362.28 305.88,362.02 306.8,361.69 307.72,361.29 308.63,360.84 309.55,360.34 310.46,359.8 311.38,359.23 312.25,358.61 313.04,357.92 313.81,357.17 314.59,356.39 315.42,355.57 316.36,354.73 317.44,353.89 318.71,353.04 320.19,352.18 321.85,351.3 323.67,350.39 325.58,349.47 327.54,348.54 329.52,347.61 331.48,346.67 333.36,345.74 335.19,344.8 337.02,343.86 338.86,342.92 340.69,341.97 342.52,341.01 344.35,340.06 346.18,339.11 348.01,338.16 349.84,337.21 351.68,336.27 353.51,335.33 355.34,334.38 357.17,333.44 359,332.49 360.83,331.54 362.67,330.58 364.5,329.6 366.33,328.6 368.16,327.58 369.99,326.56 371.83,325.56 373.66,324.59 375.49,323.67 377.32,322.82 379.2,322 381.16,321.19 383.14,320.42 385.1,319.68 387.01,319 388.83,318.4 390.49,317.88 391.97,317.46 393.24,317.14 394.32,316.9 395.26,316.74 396.09,316.66 396.87,316.65 397.64,316.7 398.43,316.82 399.3,317 400.17,317.17 400.96,317.33 401.73,317.52 402.51,317.79 403.34,318.2 404.28,318.78 405.36,319.6 406.63,320.69 408.11,322.11 409.77,323.82 411.59,325.76 413.5,327.88 415.46,330.12 417.44,332.44 419.4,334.76 421.28,337.05 423.11,339.38 424.94,341.85 426.77,344.4 428.61,346.98 430.44,349.55 432.27,352.05 434.1,354.43 435.93,356.64 437.76,358.72 439.6,360.74 441.43,362.68 443.26,364.53 445.09,366.27 446.92,367.91 448.75,369.41 450.59,370.78 452.42,371.99 454.25,373.04 456.08,373.96 457.91,374.77 459.75,375.49 461.58,376.14 463.41,376.75 465.24,377.34 467.07,377.89 468.9,378.35 470.74,378.75 472.57,379.09 474.4,379.4 476.23,379.68 478.06,379.94 479.89,380.21 481.83,380.47 483.9,380.71 486.03,380.93 488.14,381.13 490.12,381.3 491.91,381.45 493.42,381.58 494.55,381.69" fill="none" stroke="#20b25c" stroke-width="1.1" stroke-linejoin="round"/>
<circle cx="289.4" cy="357.01" r="1.75" fill="#20b25c"/>
<circle cx="304.05" cy="366.16" r="1.75" fill="#20b25c"/>
<circle cx="318.71" cy="350.17" r="1.75" fill="#20b25c"/>
<circle cx="377.32" cy="323.28" r="1.75" fill="#20b25c"/>
<circle cx="406.63" cy="309.14" r="1.75" fill="#20b25c"/>
<circle cx="435.93" cy="360.34" r="1.75" fill="#20b25c"/>
<circle cx="465.24" cy="378.45" r="1.75" fill="#20b25c"/>
<circle cx="494.55" cy="382.15" r="1.75" fill="#20b25c"/>
<path d="M448 289.7H461.6" stroke="#20b25c" stroke-width="0.9"/>
<circle cx="454.8" cy="289.7" r="1.75" fill="#20b25c"/>
<text transform="translate(462.9 291.8) scale(1 1.1)" font-family='"Liberation Serif", serif' font-size="6.2" font-weight="bold" text-anchor="start" fill="#111" stroke="#111" stroke-width="0.2">D-1-C/N=0.535</text>
<path d="M448 297.63H461.6" stroke="#1f9bd7" stroke-width="0.9"/>
<path d="M456.99 297.63L453.16 295.44L453.16 299.82Z" fill="#1f9bd7"/>
<text transform="translate(462.9 299.73) scale(1 1.1)" font-family='"Liberation Serif", serif' font-size="6.2" font-weight="bold" text-anchor="start" fill="#111" stroke="#111" stroke-width="0.2">F-C/N=2.673</text>
<path d="M448 305.56H461.6" stroke="#ee3a4b" stroke-width="0.9"/>
<circle cx="454.8" cy="305.56" r="1.75" fill="#ee3a4b"/>
<text transform="translate(462.9 307.66) scale(1 1.1)" font-family='"Liberation Serif", serif' font-size="6.2" font-weight="bold" text-anchor="start" fill="#111" stroke="#111" stroke-width="0.2">G-C/N=5</text>
<path d="M448 313.49H461.6" stroke="#f5a31d" stroke-width="0.9"/>
<path d="M456.9 313.49L455.23 313.06L454.8 311.39L454.37 313.06L452.7 313.49L454.37 313.92L454.8 315.59L455.23 313.92Z" fill="#f5a31d"/>
<text transform="translate(462.9 315.59) scale(1 1.1)" font-family='"Liberation Serif", serif' font-size="6.2" font-weight="bold" text-anchor="start" fill="#111" stroke="#111" stroke-width="0.2">H-C/N=11</text>
<path d="M162.86 461.55V463.75M161.56 461.55H164.16M161.56 463.75H164.16" stroke="#f0a0a0" stroke-width="0.6" fill="none"/>
<path d="M190.47 457.6V459.8M189.17 457.6H191.77M189.17 459.8H191.77" stroke="#f0a0a0" stroke-width="0.6" fill="none"/>
<path d="M218.08 452.76V454.96M216.78 452.76H219.38M216.78 454.96H219.38" stroke="#f0a0a0" stroke-width="0.6" fill="none"/>
<path d="M245.69 434.08V440.67M244.39 434.08H246.99M244.39 440.67H246.99" stroke="#f0a0a0" stroke-width="0.6" fill="none"/>
<path d="M38.6,475.84 39.67,475.98 41.08,476.16 42.77,476.39 44.64,476.63 46.62,476.88 48.63,477.12 50.59,477.32 52.41,477.49 54.13,477.63 55.86,477.77 57.58,477.9 59.31,478 61.04,478.08 62.76,478.12 64.49,478.11 66.21,478.04 67.94,477.9 69.66,477.68 71.39,477.42 73.12,477.11 74.84,476.79 76.57,476.45 78.29,476.13 80.02,475.84 81.65,475.57 83.15,475.29 84.59,475.02 86.06,474.74 87.64,474.47 89.4,474.19 91.44,473.92 93.83,473.64 96.52,473.41 99.43,473.25 102.56,473.11 105.91,472.96 109.46,472.75 113.24,472.46 117.23,472.04 121.44,471.44 126.05,470.63 131.15,469.6 136.57,468.42 142.15,467.16 147.73,465.89 153.15,464.67 158.25,463.57 162.86,462.65 166.97,461.93 170.73,461.34 174.22,460.85 177.53,460.43 180.72,460.03 183.89,459.63 187.11,459.2 190.47,458.7 193.92,458.21 197.37,457.82 200.82,457.46 204.28,457.06 207.73,456.57 211.18,455.91 214.63,455.03 218.08,453.86 221.72,452.25 225.63,450.17 229.65,447.81 233.61,445.32 237.36,442.86 240.73,440.61 243.56,438.73 245.69,437.38" fill="none" stroke="#e8262c" stroke-width="1.1" stroke-linejoin="round"/>
<rect x="37.02" y="473.72" width="3.15" height="3.15" fill="#e8262c"/>
<rect x="64.64" y="477.01" width="3.15" height="3.15" fill="#e8262c"/>
<rect x="92.25" y="472.07" width="3.15" height="3.15" fill="#e8262c"/>
<rect x="119.86" y="469.87" width="3.15" height="3.15" fill="#e8262c"/>
<rect x="161.28" y="461.08" width="3.15" height="3.15" fill="#e8262c"/>
<rect x="188.89" y="457.12" width="3.15" height="3.15" fill="#e8262c"/>
<rect x="216.51" y="452.29" width="3.15" height="3.15" fill="#e8262c"/>
<rect x="244.12" y="435.8" width="3.15" height="3.15" fill="#e8262c"/>
<path d="M245.69 430.78V435.18M244.39 430.78H246.99M244.39 435.18H246.99" stroke="#9fb4dc" stroke-width="0.6" fill="none"/>
<path d="M38.6,483.53 39.67,482.58 41.08,481.27 42.77,479.72 44.64,478 46.62,476.23 48.63,474.48 50.59,472.85 52.41,471.44 54.13,470.19 55.86,468.97 57.58,467.81 59.31,466.71 61.04,465.68 62.76,464.75 64.49,463.92 66.21,463.2 67.94,462.63 69.66,462.2 71.39,461.89 73.12,461.66 74.84,461.48 76.57,461.34 78.29,461.19 80.02,461 81.65,460.81 83.15,460.64 84.59,460.49 86.06,460.35 87.64,460.23 89.4,460.12 91.44,460.01 93.83,459.91 96.52,459.81 99.43,459.74 102.56,459.68 105.91,459.63 109.46,459.58 113.24,459.52 117.23,459.45 121.44,459.36 126.05,459.27 131.15,459.2 136.57,459.13 142.15,459.05 147.73,458.93 153.15,458.78 158.25,458.56 162.86,458.26 166.97,457.93 170.73,457.6 174.22,457.24 177.53,456.81 180.72,456.3 183.89,455.66 187.11,454.85 190.47,453.86 193.92,452.6 197.37,451.05 200.82,449.32 204.28,447.47 207.73,445.6 211.18,443.79 214.63,442.12 218.08,440.67 221.72,439.4 225.63,438.18 229.65,437.05 233.61,436 237.36,435.06 240.73,434.23 243.56,433.54 245.69,432.98" fill="none" stroke="#2b57a6" stroke-width="1.1" stroke-linejoin="round"/>
<circle cx="38.6" cy="483.53" r="1.75" fill="#2b57a6"/>
<circle cx="66.21" cy="462.1" r="1.75" fill="#2b57a6"/>
<circle cx="93.83" cy="460.46" r="1.75" fill="#2b57a6"/>
<circle cx="121.44" cy="460.46" r="1.75" fill="#2b57a6"/>
<circle cx="162.86" cy="458.26" r="1.75" fill="#2b57a6"/>
<circle cx="190.47" cy="453.86" r="1.75" fill="#2b57a6"/>
<circle cx="218.08" cy="440.67" r="1.75" fill="#2b57a6"/>
<circle cx="245.69" cy="432.98" r="1.75" fill="#2b57a6"/>
<path d="M218.08 441.22V443.42M216.78 441.22H219.38M216.78 443.42H219.38" stroke="#f8dc88" stroke-width="0.6" fill="none"/>
<path d="M245.69 428.58V432.98M244.39 428.58H246.99M244.39 432.98H246.99" stroke="#f8dc88" stroke-width="0.6" fill="none"/>
<path d="M38.6,481.34 39.67,480.45 41.08,479.23 42.77,477.78 44.64,476.18 46.62,474.55 48.63,472.96 50.59,471.53 52.41,470.35 54.13,469.37 55.86,468.51 57.58,467.74 59.31,467.05 61.04,466.43 62.76,465.86 64.49,465.34 66.21,464.85 67.94,464.41 69.66,464.06 71.39,463.76 73.12,463.51 74.84,463.29 76.57,463.09 78.29,462.88 80.02,462.65 81.65,462.41 83.15,462.18 84.59,461.95 86.06,461.73 87.64,461.52 89.4,461.33 91.44,461.15 93.83,461 96.52,460.9 99.43,460.85 102.56,460.84 105.91,460.83 109.46,460.81 113.24,460.76 117.23,460.65 121.44,460.46 126.05,460.19 131.15,459.88 136.57,459.52 142.15,459.12 147.73,458.68 153.15,458.2 158.25,457.69 162.86,457.16 166.97,456.6 170.73,456.03 174.22,455.43 177.53,454.79 180.72,454.1 183.89,453.36 187.11,452.55 190.47,451.66 193.92,450.69 197.37,449.65 200.82,448.54 204.28,447.37 207.73,446.15 211.18,444.9 214.63,443.62 218.08,442.32 221.72,440.91 225.63,439.32 229.65,437.65 233.61,435.97 237.36,434.36 240.73,432.91 243.56,431.69 245.69,430.78" fill="none" stroke="#f6c21b" stroke-width="1.1" stroke-linejoin="round"/>
<path d="M38.6 479.15L40.79 482.98L36.41 482.98Z" fill="#f6c21b"/>
<path d="M66.21 461.56L68.4 465.39L64.03 465.39Z" fill="#f6c21b"/>
<path d="M93.83 459.92L96.01 463.74L91.64 463.74Z" fill="#f6c21b"/>
<path d="M121.44 459.37L123.62 463.19L119.25 463.19Z" fill="#f6c21b"/>
<path d="M162.86 454.97L165.04 458.8L160.67 458.8Z" fill="#f6c21b"/>
<path d="M190.47 449.48L192.66 453.3L188.28 453.3Z" fill="#f6c21b"/>
<path d="M218.08 440.13L220.27 443.96L215.89 443.96Z" fill="#f6c21b"/>
<path d="M245.69 428.59L247.88 432.42L243.51 432.42Z" fill="#f6c21b"/>
<path d="M218.08 440.67V442.87M216.78 440.67H219.38M216.78 442.87H219.38" stroke="#8fd8b4" stroke-width="0.6" fill="none"/>
<path d="M245.69 426.39V432.98M244.39 426.39H246.99M244.39 432.98H246.99" stroke="#8fd8b4" stroke-width="0.6" fill="none"/>
<path d="M38.6,479.14 39.67,478.34 41.08,477.26 42.77,475.96 44.64,474.54 46.62,473.07 48.63,471.64 50.59,470.34 52.41,469.25 54.13,468.33 55.86,467.49 57.58,466.72 59.31,466.02 61.04,465.38 62.76,464.79 64.49,464.25 66.21,463.75 67.94,463.31 69.66,462.94 71.39,462.64 73.12,462.38 74.84,462.15 76.57,461.95 78.29,461.75 80.02,461.55 81.65,461.36 83.15,461.18 84.59,461.01 86.06,460.87 87.64,460.74 89.4,460.63 91.44,460.53 93.83,460.46 96.52,460.43 99.43,460.47 102.56,460.54 105.91,460.62 109.46,460.68 113.24,460.69 117.23,460.63 121.44,460.46 126.05,460.17 131.15,459.8 136.57,459.36 142.15,458.87 147.73,458.34 153.15,457.79 158.25,457.25 162.86,456.72 166.97,456.23 170.73,455.79 174.22,455.35 177.53,454.88 180.72,454.37 183.89,453.77 187.11,453.06 190.47,452.21 193.92,451.2 197.37,450.06 200.82,448.8 204.28,447.47 207.73,446.07 211.18,444.64 214.63,443.2 218.08,441.77 221.72,440.26 225.63,438.58 229.65,436.83 233.61,435.07 237.36,433.4 240.73,431.89 243.56,430.63 245.69,429.68" fill="none" stroke="#1fae6b" stroke-width="1.1" stroke-linejoin="round"/>
<path d="M38.6 481.33L40.79 477.5L36.41 477.5Z" fill="#1fae6b"/>
<path d="M66.21 465.39L68.4 461.56L64.03 461.56Z" fill="#1fae6b"/>
<path d="M93.83 463.74L96.01 459.91L91.64 459.91Z" fill="#1fae6b"/>
<path d="M121.44 464.84L123.62 461.01L119.25 461.01Z" fill="#1fae6b"/>
<path d="M162.86 458.91L165.04 455.08L160.67 455.08Z" fill="#1fae6b"/>
<path d="M190.47 454.4L192.66 450.57L188.28 450.57Z" fill="#1fae6b"/>
<path d="M218.08 443.96L220.27 440.13L215.89 440.13Z" fill="#1fae6b"/>
<path d="M245.69 431.87L247.88 428.04L243.51 428.04Z" fill="#1fae6b"/>
<path d="M38.6,472.54 39.67,472.11 41.08,471.53 42.77,470.84 44.64,470.07 46.62,469.27 48.63,468.47 50.59,467.72 52.41,467.05 54.13,466.43 55.86,465.82 57.58,465.22 59.31,464.64 61.04,464.09 62.76,463.57 64.49,463.09 66.21,462.65 67.94,462.27 69.66,461.92 71.39,461.62 73.12,461.35 74.84,461.1 76.57,460.88 78.29,460.66 80.02,460.46 81.65,460.26 83.15,460.09 84.59,459.94 86.06,459.8 87.64,459.68 89.4,459.57 91.44,459.46 93.83,459.36 96.52,459.3 99.43,459.32 102.56,459.38 105.91,459.43 109.46,459.44 113.24,459.36 117.23,459.17 121.44,458.81 126.05,458.23 131.15,457.44 136.57,456.52 142.15,455.52 147.73,454.51 153.15,453.56 158.25,452.74 162.86,452.1 166.97,451.69 170.73,451.45 174.22,451.32 177.53,451.26 180.72,451.2 183.89,451.11 187.11,450.91 190.47,450.56 193.92,450.11 197.37,449.61 200.82,449.06 204.28,448.44 207.73,447.75 211.18,446.96 214.63,446.07 218.08,445.07 221.72,443.84 225.63,442.34 229.65,440.68 233.61,438.96 237.36,437.28 240.73,435.74 243.56,434.46 245.69,433.53" fill="none" stroke="#5b5ba6" stroke-width="1.1" stroke-linejoin="round"/>
<path d="M38.6 470.27L40.88 472.54L38.6 474.82L36.33 472.54Z" fill="#5b5ba6"/>
<path d="M66.21 459.28L68.49 461.55L66.21 463.83L63.94 461.55Z" fill="#5b5ba6"/>
<path d="M93.83 457.08L96.1 459.36L93.83 461.63L91.55 459.36Z" fill="#5b5ba6"/>
<path d="M121.44 457.52L123.71 459.8L121.44 462.07L119.16 459.8Z" fill="#5b5ba6"/>
<path d="M162.86 449.83L165.13 452.1L162.86 454.38L160.58 452.1Z" fill="#5b5ba6"/>
<path d="M190.47 448.29L192.74 450.56L190.47 452.84L188.19 450.56Z" fill="#5b5ba6"/>
<path d="M218.08 442.79L220.36 445.07L218.08 447.34L215.81 445.07Z" fill="#5b5ba6"/>
<path d="M245.69 431.25L247.97 433.53L245.69 435.8L243.42 433.53Z" fill="#5b5ba6"/>
<path d="M41.4 418.4H55.3" stroke="#e8262c" stroke-width="0.9"/>
<rect x="46.77" y="416.82" width="3.15" height="3.15" fill="#e8262c"/>
<text transform="translate(56.9 420.5) scale(1 1.1)" font-family='"Liberation Serif", serif' font-size="6.15" font-weight="bold" text-anchor="start" fill="#111" stroke="#111" stroke-width="0.2">A-C/N=0.134</text>
<path d="M41.4 426.2H55.3" stroke="#2b57a6" stroke-width="0.9"/>
<circle cx="48.35" cy="426.2" r="1.75" fill="#2b57a6"/>
<text transform="translate(56.9 428.3) scale(1 1.1)" font-family='"Liberation Serif", serif' font-size="6.15" font-weight="bold" text-anchor="start" fill="#111" stroke="#111" stroke-width="0.2">B-C/N=0.267</text>
<path d="M41.4 434H55.3" stroke="#f6c21b" stroke-width="0.9"/>
<path d="M48.35 431.81L50.54 435.64L46.16 435.64Z" fill="#f6c21b"/>
<text transform="translate(56.9 436.1) scale(1 1.1)" font-family='"Liberation Serif", serif' font-size="6.15" font-weight="bold" text-anchor="start" fill="#111" stroke="#111" stroke-width="0.2">C-C/N=0.401</text>
<path d="M41.4 441.8H55.3" stroke="#1fae6b" stroke-width="0.9"/>
<path d="M48.35 443.99L50.54 440.16L46.16 440.16Z" fill="#1fae6b"/>
<text transform="translate(56.9 443.9) scale(1 1.1)" font-family='"Liberation Serif", serif' font-size="6.15" font-weight="bold" text-anchor="start" fill="#111" stroke="#111" stroke-width="0.2">D-C/N=0.535</text>
<path d="M41.4 449.6H55.3" stroke="#5b5ba6" stroke-width="0.9"/>
<path d="M48.35 447.32L50.62 449.6L48.35 451.87L46.07 449.6Z" fill="#5b5ba6"/>
<text transform="translate(56.9 451.7) scale(1 1.1)" font-family='"Liberation Serif", serif' font-size="6.15" font-weight="bold" text-anchor="start" fill="#111" stroke="#111" stroke-width="0.2">E-C/N=0.692</text>
<path d="M377.68 455.88V460.29M376.38 455.88H378.98M376.38 460.29H378.98" stroke="#f6a0a8" stroke-width="0.6" fill="none"/>
<path d="M407.04 458.53V462.93M405.74 458.53H408.34M405.74 462.93H408.34" stroke="#f6a0a8" stroke-width="0.6" fill="none"/>
<path d="M436.4 463.93V470.54M435.1 463.93H437.7M435.1 470.54H437.7" stroke="#f6a0a8" stroke-width="0.6" fill="none"/>
<path d="M465.76 468.22V477.04M464.46 468.22H467.06M464.46 477.04H467.06" stroke="#f6a0a8" stroke-width="0.6" fill="none"/>
<path d="M495.12 474.29V478.69M493.82 474.29H496.42M493.82 478.69H496.42" stroke="#f6a0a8" stroke-width="0.6" fill="none"/>
<path d="M289.6,471.31 290.73,469.98 292.24,468.13 294.03,465.91 296.02,463.5 298.13,461.06 300.27,458.75 302.34,456.75 304.28,455.22 306.01,454.12 307.61,453.27 309.14,452.63 310.7,452.18 312.38,451.87 314.26,451.67 316.42,451.55 318.96,451.47 321.93,451.49 325.27,451.65 328.89,451.94 332.72,452.31 336.66,452.75 340.64,453.21 344.55,453.68 348.32,454.12 351.99,454.56 355.66,455.05 359.33,455.57 363,456.1 366.67,456.64 370.34,457.16 374.01,457.64 377.68,458.09 381.35,458.45 385.02,458.75 388.69,459.01 392.36,459.25 396.03,459.51 399.7,459.83 403.37,460.22 407.04,460.73 410.71,461.37 414.38,462.11 418.05,462.93 421.72,463.81 425.39,464.71 429.06,465.59 432.73,466.45 436.4,467.23 440.07,467.97 443.74,468.7 447.41,469.41 451.08,470.1 454.75,470.77 458.42,471.42 462.09,472.04 465.76,472.63 469.63,473.21 473.79,473.8 478.06,474.36 482.27,474.9 486.26,475.39 489.84,475.83 492.85,476.2 495.12,476.49" fill="none" stroke="#ee3a4b" stroke-width="1.1" stroke-linejoin="round"/>
<circle cx="289.6" cy="473.51" r="1.75" fill="#ee3a4b"/>
<circle cx="304.28" cy="450.92" r="1.75" fill="#ee3a4b"/>
<circle cx="318.96" cy="450.92" r="1.75" fill="#ee3a4b"/>
<circle cx="348.32" cy="454.12" r="1.75" fill="#ee3a4b"/>
<circle cx="377.68" cy="458.09" r="1.75" fill="#ee3a4b"/>
<circle cx="407.04" cy="460.73" r="1.75" fill="#ee3a4b"/>
<circle cx="436.4" cy="467.23" r="1.75" fill="#ee3a4b"/>
<circle cx="465.76" cy="472.63" r="1.75" fill="#ee3a4b"/>
<circle cx="495.12" cy="476.49" r="1.75" fill="#ee3a4b"/>
<path d="M348.32 458.09V462.49M347.02 458.09H349.62M347.02 462.49H349.62" stroke="#90cdeb" stroke-width="0.6" fill="none"/>
<path d="M377.68 459.52V463.93M376.38 459.52H378.98M376.38 463.93H378.98" stroke="#90cdeb" stroke-width="0.6" fill="none"/>
<path d="M407.04 457.76V464.37M405.74 457.76H408.34M405.74 464.37H408.34" stroke="#90cdeb" stroke-width="0.6" fill="none"/>
<path d="M436.4 468.89V473.29M435.1 468.89H437.7M435.1 473.29H437.7" stroke="#90cdeb" stroke-width="0.6" fill="none"/>
<path d="M465.76 465.58V469.99M464.46 465.58H467.06M464.46 469.99H467.06" stroke="#90cdeb" stroke-width="0.6" fill="none"/>
<path d="M495.12 465.03V467.23M493.82 465.03H496.42M493.82 467.23H496.42" stroke="#90cdeb" stroke-width="0.6" fill="none"/>
<path d="M289.6,470.43 290.73,469.41 292.24,468 294.03,466.31 296.02,464.47 298.13,462.6 300.27,460.81 302.34,459.23 304.28,457.98 306.01,456.98 307.61,456.09 309.14,455.32 310.7,454.68 312.38,454.18 314.26,453.84 316.42,453.67 318.96,453.68 321.93,453.96 325.27,454.54 328.89,455.34 332.72,456.27 336.66,457.25 340.64,458.2 344.55,459.02 348.32,459.63 351.99,460.06 355.66,460.41 359.33,460.67 363,460.88 366.67,461.04 370.34,461.17 374.01,461.28 377.68,461.39 381.35,461.42 385.02,461.34 388.69,461.18 392.36,461.02 396.03,460.9 399.7,460.89 403.37,461.03 407.04,461.39 410.71,462.05 414.38,462.99 418.05,464.12 421.72,465.33 425.39,466.54 429.06,467.63 432.73,468.52 436.4,469.11 440.07,469.38 443.74,469.42 447.41,469.29 451.08,469.03 454.75,468.7 458.42,468.35 462.09,468.03 465.76,467.78 469.63,467.58 473.79,467.35 478.06,467.12 482.27,466.87 486.26,466.64 489.84,466.44 492.85,466.26 495.12,466.13" fill="none" stroke="#1f9bd7" stroke-width="1.1" stroke-linejoin="round"/>
<path d="M291.79 470.43L287.96 468.24L287.96 472.62Z" fill="#1f9bd7"/>
<path d="M306.47 457.98L302.64 455.79L302.64 460.16Z" fill="#1f9bd7"/>
<path d="M321.15 453.02L317.32 450.83L317.32 455.2Z" fill="#1f9bd7"/>
<path d="M350.51 460.29L346.68 458.1L346.68 462.48Z" fill="#1f9bd7"/>
<path d="M379.87 461.72L376.04 459.54L376.04 463.91Z" fill="#1f9bd7"/>
<path d="M409.23 461.06L405.4 458.87L405.4 463.25Z" fill="#1f9bd7"/>
<path d="M438.59 471.09L434.76 468.9L434.76 473.28Z" fill="#1f9bd7"/>
<path d="M467.95 467.78L464.12 465.6L464.12 469.97Z" fill="#1f9bd7"/>
<path d="M497.31 466.13L493.48 463.94L493.48 468.32Z" fill="#1f9bd7"/>
<path d="M377.68 460.62V465.03M376.38 460.62H378.98M376.38 465.03H378.98" stroke="#90dcae" stroke-width="0.6" fill="none"/>
<path d="M407.04 460.29V464.7M405.74 460.29H408.34M405.74 464.7H408.34" stroke="#90dcae" stroke-width="0.6" fill="none"/>
<path d="M436.4 461.06V465.47M435.1 461.06H437.7M435.1 465.47H437.7" stroke="#90dcae" stroke-width="0.6" fill="none"/>
<path d="M465.76 458.86V463.27M464.46 458.86H467.06M464.46 463.27H467.06" stroke="#90dcae" stroke-width="0.6" fill="none"/>
<path d="M495.12 455.88V458.09M493.82 455.88H496.42M493.82 458.09H496.42" stroke="#90dcae" stroke-width="0.6" fill="none"/>
<path d="M289.6,468.33 290.73,467.5 292.24,466.33 294.03,464.94 296.02,463.42 298.13,461.87 300.27,460.4 302.34,459.1 304.28,458.09 306.01,457.27 307.61,456.54 309.14,455.9 310.7,455.38 312.38,454.99 314.26,454.75 316.42,454.67 318.96,454.78 321.93,455.17 325.27,455.86 328.89,456.78 332.72,457.81 336.66,458.88 340.64,459.89 344.55,460.76 348.32,461.39 351.99,461.8 355.66,462.08 359.33,462.26 363,462.36 366.67,462.4 370.34,462.43 374.01,462.45 377.68,462.49 381.35,462.54 385.02,462.55 388.69,462.54 392.36,462.51 396.03,462.49 399.7,462.47 403.37,462.46 407.04,462.49 410.71,462.57 414.38,462.7 418.05,462.86 421.72,463.02 425.39,463.16 429.06,463.26 432.73,463.31 436.4,463.27 440.07,463.15 443.74,462.97 447.41,462.74 451.08,462.47 454.75,462.16 458.42,461.81 462.09,461.45 465.76,461.06 469.63,460.61 473.79,460.08 478.06,459.49 482.27,458.88 486.26,458.3 489.84,457.76 492.85,457.31 495.12,456.98" fill="none" stroke="#20b25c" stroke-width="1.1" stroke-linejoin="round"/>
<circle cx="289.6" cy="468.33" r="1.75" fill="#20b25c"/>
<circle cx="304.28" cy="457.42" r="1.75" fill="#20b25c"/>
<circle cx="318.96" cy="454.12" r="1.75" fill="#20b25c"/>
<circle cx="348.32" cy="461.72" r="1.75" fill="#20b25c"/>
<circle cx="377.68" cy="462.82" r="1.75" fill="#20b25c"/>
<circle cx="407.04" cy="462.49" r="1.75" fill="#20b25c"/>
<circle cx="436.4" cy="463.27" r="1.75" fill="#20b25c"/>
<circle cx="465.76" cy="461.06" r="1.75" fill="#20b25c"/>
<circle cx="495.12" cy="456.98" r="1.75" fill="#20b25c"/>
<path d="M304.28 443.21V447.62M302.98 443.21H305.58M302.98 447.62H305.58" stroke="#f9d290" stroke-width="0.6" fill="none"/>
<path d="M318.96 445.41V447.62M317.66 445.41H320.26M317.66 447.62H320.26" stroke="#f9d290" stroke-width="0.6" fill="none"/>
<path d="M348.32 445.74V450.15M347.02 445.74H349.62M347.02 450.15H349.62" stroke="#f9d290" stroke-width="0.6" fill="none"/>
<path d="M377.68 444.31V450.92M376.38 444.31H378.98M376.38 450.92H378.98" stroke="#f9d290" stroke-width="0.6" fill="none"/>
<path d="M407.04 448.17V459.19M405.74 448.17H408.34M405.74 459.19H408.34" stroke="#f9d290" stroke-width="0.6" fill="none"/>
<path d="M436.4 460.62V467.23M435.1 460.62H437.7M435.1 467.23H437.7" stroke="#f9d290" stroke-width="0.6" fill="none"/>
<path d="M465.76 469.33V480.35M464.46 469.33H467.06M464.46 480.35H467.06" stroke="#f9d290" stroke-width="0.6" fill="none"/>
<path d="M495.12 493.35V510.98M493.82 493.35H496.42M493.82 510.98H496.42" stroke="#f9d290" stroke-width="0.6" fill="none"/>
<path d="M289.6,453.02 290.73,452.52 292.24,451.82 294.03,450.98 296.02,450.08 298.13,449.16 300.27,448.31 302.34,447.59 304.28,447.07 306.01,446.73 307.61,446.51 309.14,446.39 310.7,446.35 312.38,446.36 314.26,446.41 316.42,446.47 318.96,446.52 321.93,446.58 325.27,446.7 328.89,446.86 332.72,447.03 336.66,447.21 340.64,447.38 344.55,447.52 348.32,447.62 352.09,447.65 356,447.63 359.98,447.58 363.92,447.51 367.75,447.46 371.37,447.45 374.71,447.49 377.68,447.62 380.22,447.83 382.38,448.1 384.26,448.42 385.94,448.79 387.5,449.18 389.03,449.58 390.63,449.98 392.36,450.37 394.09,450.71 395.69,451 397.22,451.27 398.78,451.56 400.46,451.91 402.34,452.35 404.5,452.93 407.04,453.68 410.01,454.62 413.35,455.74 416.97,456.98 420.8,458.33 424.74,459.73 428.72,461.16 432.63,462.57 436.4,463.93 440.07,465.15 443.74,466.22 447.41,467.25 451.08,468.31 454.75,469.51 458.42,470.94 462.09,472.68 465.76,474.84 469.63,477.65 473.79,481.15 478.06,485.08 482.27,489.18 486.26,493.2 489.84,496.87 492.85,499.95 495.12,502.17" fill="none" stroke="#f5a31d" stroke-width="1.1" stroke-linejoin="round"/>
<path d="M291.7 452.58L290.03 452.14L289.6 450.48L289.17 452.14L287.5 452.58L289.17 453.01L289.6 454.68L290.03 453.01Z" fill="#f5a31d"/>
<path d="M306.38 445.41L304.71 444.98L304.28 443.31L303.85 444.98L302.18 445.41L303.85 445.85L304.28 447.51L304.71 445.85Z" fill="#f5a31d"/>
<path d="M321.06 446.52L319.39 446.08L318.96 444.42L318.53 446.08L316.86 446.52L318.53 446.95L318.96 448.62L319.39 446.95Z" fill="#f5a31d"/>
<path d="M350.42 447.95L348.75 447.51L348.32 445.85L347.89 447.51L346.22 447.95L347.89 448.38L348.32 450.05L348.75 448.38Z" fill="#f5a31d"/>
<path d="M379.78 447.62L378.11 447.18L377.68 445.52L377.25 447.18L375.58 447.62L377.25 448.05L377.68 449.72L378.11 448.05Z" fill="#f5a31d"/>
<path d="M409.14 453.68L407.47 453.24L407.04 451.58L406.61 453.24L404.94 453.68L406.61 454.11L407.04 455.78L407.47 454.11Z" fill="#f5a31d"/>
<path d="M438.5 463.93L436.83 463.49L436.4 461.83L435.97 463.49L434.3 463.93L435.97 464.36L436.4 466.03L436.83 464.36Z" fill="#f5a31d"/>
<path d="M467.86 474.84L466.19 474.4L465.76 472.74L465.33 474.4L463.66 474.84L465.33 475.27L465.76 476.94L466.19 475.27Z" fill="#f5a31d"/>
<path d="M497.22 502.17L495.55 501.73L495.12 500.07L494.69 501.73L493.02 502.17L494.69 502.6L495.12 504.27L495.55 502.6Z" fill="#f5a31d"/>
<path d="M453 418.9H466.2" stroke="#20b25c" stroke-width="0.9"/>
<circle cx="459.6" cy="418.9" r="1.75" fill="#20b25c"/>
<text transform="translate(468 421) scale(1 1.1)" font-family='"Liberation Serif", serif' font-size="6.2" font-weight="bold" text-anchor="start" fill="#111" stroke="#111" stroke-width="0.2">D-1-C/N=0.535</text>
<path d="M453 426.83H466.2" stroke="#1f9bd7" stroke-width="0.9"/>
<path d="M461.79 426.83L457.96 424.64L457.96 429.02Z" fill="#1f9bd7"/>
<text transform="translate(468 428.93) scale(1 1.1)" font-family='"Liberation Serif", serif' font-size="6.2" font-weight="bold" text-anchor="start" fill="#111" stroke="#111" stroke-width="0.2">F-C/N=2.673</text>
<path d="M453 434.76H466.2" stroke="#ee3a4b" stroke-width="0.9"/>
<circle cx="459.6" cy="434.76" r="1.75" fill="#ee3a4b"/>
<text transform="translate(468 436.86) scale(1 1.1)" font-family='"Liberation Serif", serif' font-size="6.2" font-weight="bold" text-anchor="start" fill="#111" stroke="#111" stroke-width="0.2">G-C/N=5</text>
<path d="M453 442.69H466.2" stroke="#f5a31d" stroke-width="0.9"/>
<path d="M461.7 442.69L460.03 442.26L459.6 440.59L459.17 442.26L457.5 442.69L459.17 443.12L459.6 444.79L460.03 443.12Z" fill="#f5a31d"/>
<text transform="translate(468 444.79) scale(1 1.1)" font-family='"Liberation Serif", serif' font-size="6.2" font-weight="bold" text-anchor="start" fill="#111" stroke="#111" stroke-width="0.2">H-C/N=11</text>
</svg>
</body></html>
